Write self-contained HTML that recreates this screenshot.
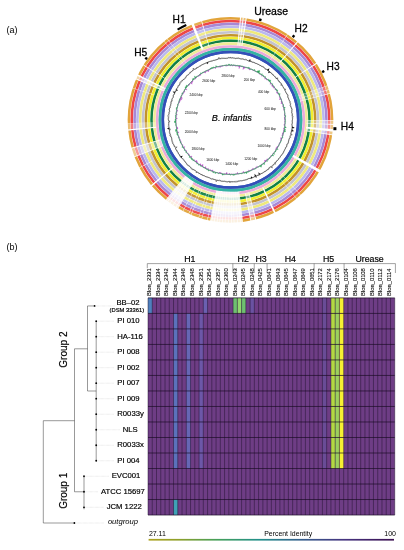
<!DOCTYPE html>
<html lang="en"><head><meta charset="utf-8"><title>B. infantis comparative genomics</title>
<style>html,body{margin:0;padding:0;background:#fff}body{width:404px;height:550px;overflow:hidden}svg{display:block}text{font-family:"Liberation Sans",Arial,sans-serif;fill:#000}.b{stroke:#000;stroke-width:.28px}.m{stroke:#000;stroke-width:.18px}.g{stroke:#111;stroke-width:.1px}</style>
</head><body>
<svg width="404" height="550" viewBox="0 0 404 550">
<rect width="404" height="550" fill="#fff"/>
<g id="panel-a">
<circle cx="230.5" cy="119.8" r="101.59" fill="none" stroke="#E2A43A" stroke-width="2.54"/>
<circle cx="230.5" cy="119.8" r="98.77" fill="none" stroke="#EE4646" stroke-width="2.54"/>
<circle cx="230.5" cy="119.8" r="95.94" fill="none" stroke="#A888D4" stroke-width="2.54"/>
<circle cx="230.5" cy="119.8" r="93.12" fill="none" stroke="#BAB8EE" stroke-width="2.54"/>
<circle cx="230.5" cy="119.8" r="90.3" fill="none" stroke="#EEE97C" stroke-width="2.54"/>
<circle cx="230.5" cy="119.8" r="87.47" fill="none" stroke="#C4C3CE" stroke-width="2.54"/>
<circle cx="230.5" cy="119.8" r="84.65" fill="none" stroke="#C2922A" stroke-width="2.54"/>
<circle cx="230.5" cy="119.8" r="81.83" fill="none" stroke="#F2EE2E" stroke-width="2.54"/>
<circle cx="230.5" cy="119.8" r="79" fill="none" stroke="#128046" stroke-width="2.54"/>
<circle cx="230.5" cy="119.8" r="76.18" fill="none" stroke="#F0EC96" stroke-width="2.54"/>
<circle cx="230.5" cy="119.8" r="73.36" fill="none" stroke="#EAAADA" stroke-width="2.54"/>
<circle cx="230.5" cy="119.8" r="70.53" fill="none" stroke="#35B3A3" stroke-width="2.54"/>
<circle cx="230.5" cy="119.8" r="67.71" fill="none" stroke="#3350B8" stroke-width="2.54"/>
<path d="M190.98 23.6A104 104 0 0 1 193.46 22.62L203.61 49.25A75.5 75.5 0 0 0 201.81 49.96Z" fill="#fff" fill-opacity="1.0"/>
<path d="M193.23 22.71A104 104 0 0 1 200.96 20.08L208.91 46.93A76 76 0 0 0 203.26 48.85Z" fill="#fff" fill-opacity="0.12"/>
<path d="M200.92 20.09A104 104 0 0 1 201.7 19.87L209.45 46.77A76 76 0 0 0 208.89 46.94Z" fill="#fff" fill-opacity="0.95"/>
<path d="M166.24 38.03A104 104 0 0 1 166.7 37.67L186.33 62.94A72 72 0 0 0 186.01 63.19Z" fill="#fff" fill-opacity="0.8"/>
<path d="M163.15 40.56A104 104 0 0 1 163.6 40.17L184.18 64.67A72 72 0 0 0 183.87 64.94Z" fill="#fff" fill-opacity="0.7"/>
<path d="M142.31 64.68A104 104 0 0 1 142.68 64.09L167.17 79.62A75 75 0 0 0 166.9 80.05Z" fill="#fff" fill-opacity="0.9"/>
<path d="M136.35 75.61A104 104 0 0 1 137.07 74.12L165.82 88.17A72 72 0 0 0 165.32 89.21Z" fill="#fff" fill-opacity="1.0"/>
<path d="M135.05 78.5A104 104 0 0 1 136.71 74.86L165.57 88.69A72 72 0 0 0 164.42 91.21Z" fill="#fff" fill-opacity="0.55"/>
<path d="M134.84 78.99A104 104 0 0 1 135.27 78.01L164.57 90.87A72 72 0 0 0 164.28 91.54Z" fill="#fff" fill-opacity="0.95"/>
<path d="M131.5 87.93A104 104 0 0 1 131.68 87.39L154.48 94.87A80 80 0 0 0 154.35 95.29Z" fill="#fff" fill-opacity="0.7"/>
<path d="M240.13 16.25A104 104 0 0 1 241.17 16.35L238.16 45.49A74.7 74.7 0 0 0 237.41 45.42Z" fill="#fff" fill-opacity="1.0"/>
<path d="M242.89 16.54A104 104 0 0 1 243.82 16.66L240.06 45.71A74.7 74.7 0 0 0 239.4 45.63Z" fill="#fff" fill-opacity="1.0"/>
<path d="M245.89 16.95A104 104 0 0 1 246.93 17.11L242.3 46.04A74.7 74.7 0 0 0 241.56 45.92Z" fill="#fff" fill-opacity="1.0"/>
<path d="M240.65 16.3A104 104 0 0 1 246.41 17.02L241.93 45.98A74.7 74.7 0 0 0 237.79 45.46Z" fill="#fff" fill-opacity="0.3"/>
<path d="M287.96 33.11A104 104 0 0 1 288.45 33.44L270.62 60.01A72 72 0 0 0 270.28 59.79Z" fill="#fff" fill-opacity="0.7"/>
<path d="M297.88 40.58A104 104 0 0 1 298.76 41.33L279.72 63.21A75 75 0 0 0 279.09 62.67Z" fill="#fff" fill-opacity="1.0"/>
<path d="M317.14 62.27A104 104 0 0 1 317.71 63.13L295.07 77.85A77 77 0 0 0 294.65 77.21Z" fill="#fff" fill-opacity="1.0"/>
<path d="M328.48 84.92A104 104 0 0 1 328.71 85.59L298.49 96.12A72 72 0 0 0 298.33 95.65Z" fill="#fff" fill-opacity="0.9"/>
<path d="M329.8 88.88A104 104 0 0 1 330.01 89.56L299.39 98.86A72 72 0 0 0 299.24 98.39Z" fill="#fff" fill-opacity="0.9"/>
<path d="M330.91 92.72A104 104 0 0 1 331.09 93.4L300.14 101.52A72 72 0 0 0 300.02 101.05Z" fill="#fff" fill-opacity="0.9"/>
<path d="M328.6 85.26A104 104 0 0 1 331 93.06L300.08 101.29A72 72 0 0 0 298.41 95.88Z" fill="#fff" fill-opacity="0.25"/>
<path d="M334.5 120.3A104 104 0 0 1 334.49 121.11L306.49 120.76A76 76 0 0 0 306.5 120.17Z" fill="#fff" fill-opacity="0.9"/>
<path d="M334.41 124.11A104 104 0 0 1 334.37 124.92L306.41 123.54A76 76 0 0 0 306.43 122.95Z" fill="#fff" fill-opacity="0.9"/>
<path d="M334.06 129.34A104 104 0 0 1 333.82 131.64L306.01 128.45A76 76 0 0 0 306.18 126.77Z" fill="#fff" fill-opacity="1.0"/>
<path d="M333.44 134.59A104 104 0 0 1 333.32 135.39L305.64 131.19A76 76 0 0 0 305.73 130.61Z" fill="#fff" fill-opacity="0.9"/>
<path d="M334.5 120.71A104 104 0 0 1 333.38 134.99L305.68 130.9A76 76 0 0 0 306.5 120.46Z" fill="#fff" fill-opacity="0.4"/>
<path d="M321.32 170.46A104 104 0 0 1 319.79 173.12L292.32 156.72A72 72 0 0 0 293.38 154.87Z" fill="#fff" fill-opacity="1.0"/>
<path d="M301.64 195.66A104 104 0 0 1 301.21 196.06L279.45 172.6A72 72 0 0 0 279.75 172.32Z" fill="#fff" fill-opacity="0.7"/>
<path d="M297.58 199.28A104 104 0 0 1 297.12 199.66L276.62 175.09A72 72 0 0 0 276.94 174.82Z" fill="#fff" fill-opacity="0.6"/>
<path d="M276.06 213.29A104 104 0 0 1 274.48 214.04L262.22 187.76A75 75 0 0 0 263.35 187.22Z" fill="#fff" fill-opacity="1.0"/>
<path d="M256.46 220.51A104 104 0 0 1 255.56 220.74L248.57 192.59A75 75 0 0 0 249.22 192.43Z" fill="#fff" fill-opacity="1.0"/>
<path d="M251.51 221.66A104 104 0 0 1 250.6 221.84L245 193.39A75 75 0 0 0 245.65 193.25Z" fill="#fff" fill-opacity="1.0"/>
<path d="M256.01 220.62A104 104 0 0 1 251.06 221.75L245.32 193.32A75 75 0 0 0 248.9 192.51Z" fill="#fff" fill-opacity="0.45"/>
<path d="M243.17 223.02A104 104 0 0 1 209.77 221.71L216.15 190.35A72 72 0 0 0 239.27 191.26Z" fill="#fff" fill-opacity="0.85"/>
<path d="M240.82 223.29A104 104 0 0 1 240.11 223.35L237.16 191.49A72 72 0 0 0 237.65 191.44Z" fill="#fff" fill-opacity="0.9"/>
<path d="M238.11 223.52A104 104 0 0 1 237.4 223.57L235.28 191.64A72 72 0 0 0 235.77 191.61Z" fill="#fff" fill-opacity="0.9"/>
<path d="M234.48 223.72A104 104 0 0 1 233.78 223.75L232.77 191.76A72 72 0 0 0 233.26 191.75Z" fill="#fff" fill-opacity="0.9"/>
<path d="M231.76 223.79A104 104 0 0 1 231.05 223.8L230.88 191.8A72 72 0 0 0 231.37 191.79Z" fill="#fff" fill-opacity="0.9"/>
<path d="M229.04 223.79A104 104 0 0 1 228.33 223.78L229 191.78A72 72 0 0 0 229.49 191.79Z" fill="#fff" fill-opacity="0.9"/>
<path d="M225.41 223.68A104 104 0 0 1 224.7 223.64L226.49 191.69A72 72 0 0 0 226.98 191.71Z" fill="#fff" fill-opacity="0.9"/>
<path d="M222.69 223.51A104 104 0 0 1 221.99 223.45L224.61 191.56A72 72 0 0 0 225.1 191.6Z" fill="#fff" fill-opacity="0.9"/>
<path d="M219.98 223.27A104 104 0 0 1 219.28 223.19L222.73 191.38A72 72 0 0 0 223.22 191.43Z" fill="#fff" fill-opacity="0.9"/>
<path d="M217.28 222.96A104 104 0 0 1 216.57 222.86L220.86 191.15A72 72 0 0 0 221.35 191.22Z" fill="#fff" fill-opacity="0.9"/>
<path d="M214.58 222.57A104 104 0 0 1 213.88 222.46L218.99 190.87A72 72 0 0 0 219.48 190.95Z" fill="#fff" fill-opacity="0.9"/>
<path d="M211.9 222.12A104 104 0 0 1 211.2 221.99L217.14 190.55A72 72 0 0 0 217.62 190.64Z" fill="#fff" fill-opacity="0.9"/>
<path d="M209.77 221.71A104 104 0 0 1 177.72 209.41L192.43 184.42A75 75 0 0 0 215.55 193.29Z" fill="#fff" fill-opacity="0.06"/>
<path d="M207.36 221.19A104 104 0 0 1 206.85 221.08L213.45 192.84A75 75 0 0 0 213.81 192.92Z" fill="#fff" fill-opacity="0.85"/>
<path d="M201.74 219.74A104 104 0 0 1 201.23 219.6L209.39 191.77A75 75 0 0 0 209.76 191.87Z" fill="#fff" fill-opacity="0.85"/>
<path d="M198.61 218.79A104 104 0 0 1 198.11 218.63L207.14 191.07A75 75 0 0 0 207.5 191.19Z" fill="#fff" fill-opacity="0.85"/>
<path d="M190.94 215.98A104 104 0 0 1 190.46 215.78L201.62 189.02A75 75 0 0 0 201.97 189.16Z" fill="#fff" fill-opacity="0.85"/>
<path d="M188.44 214.91A104 104 0 0 1 187.96 214.7L199.82 188.24A75 75 0 0 0 200.17 188.39Z" fill="#fff" fill-opacity="0.85"/>
<path d="M182.71 212.17A104 104 0 0 1 182.25 211.93L195.7 186.24A75 75 0 0 0 196.04 186.41Z" fill="#fff" fill-opacity="0.85"/>
<path d="M177.72 209.41A104 104 0 0 1 165.05 200.62L185.19 175.75A72 72 0 0 0 193.96 181.84Z" fill="#fff" fill-opacity="0.85"/>
<path d="M175.69 208.18A104 104 0 0 1 175.09 207.81L192.14 180.73A72 72 0 0 0 192.55 180.99Z" fill="#fff" fill-opacity="0.9"/>
<path d="M172.64 206.22A104 104 0 0 1 172.05 205.82L190.03 179.35A72 72 0 0 0 190.44 179.63Z" fill="#fff" fill-opacity="0.9"/>
<path d="M169.66 204.15A104 104 0 0 1 169.08 203.73L187.98 177.9A72 72 0 0 0 188.38 178.19Z" fill="#fff" fill-opacity="0.9"/>
<path d="M167.47 202.52A104 104 0 0 1 166.91 202.09L186.47 176.77A72 72 0 0 0 186.86 177.07Z" fill="#fff" fill-opacity="0.9"/>
<path d="M151.05 186.91A104 104 0 0 1 150.15 185.83L172.56 167.42A75 75 0 0 0 173.2 168.19Z" fill="#fff" fill-opacity="1.0"/>
<path d="M138.66 168.59A104 104 0 0 1 138.35 168.02L152.53 160.6A88 88 0 0 0 152.79 161.09Z" fill="#fff" fill-opacity="0.9"/>
<path d="M133.41 157.07A104 104 0 0 1 130.53 148.47L161.29 139.65A72 72 0 0 0 163.28 145.6Z" fill="#fff" fill-opacity="0.45"/>
<path d="M133.58 157.51A104 104 0 0 1 133.24 156.63L163.17 145.3A72 72 0 0 0 163.4 145.91Z" fill="#fff" fill-opacity="1.0"/>
<path d="M130.66 148.92A104 104 0 0 1 130.4 148.01L161.2 139.33A72 72 0 0 0 161.38 139.96Z" fill="#fff" fill-opacity="1.0"/>
<path d="M127.07 130.71A104 104 0 0 1 126.96 129.55L156.13 126.8A74.7 74.7 0 0 0 156.21 127.64Z" fill="#fff" fill-opacity="1.0"/>
<path d="M127.01 130.13A104 104 0 0 1 126.56 123.43L155.55 122.42A75 75 0 0 0 155.87 127.25Z" fill="#fff" fill-opacity="0.3"/>
<path d="M126.57 123.66A104 104 0 0 1 126.56 123.2L155.54 122.25A75 75 0 0 0 155.55 122.58Z" fill="#fff" fill-opacity="0.6"/>
<circle cx="230.5" cy="119.8" r="70.53" fill="none" stroke="#35B3A3" stroke-width="2.54"/>
<circle cx="230.5" cy="119.8" r="67.71" fill="none" stroke="#3350B8" stroke-width="2.54"/>
<circle cx="230.5" cy="119.8" r="62.0" fill="none" stroke="#222" stroke-width="0.35"/>
<path d="M230.5 57.87L231.04 57.69L231.58 58.02L232.12 57.98L232.67 57.63L233.21 57.69L233.72 58.26L234.29 57.87L234.79 58.4L235.31 58.7L235.88 58.31L236.43 58.23L236.98 58.13L237.53 58.08L238.08 58.05L238.65 57.89L239.15 58.28L239.67 58.45L240.18 58.67L240.68 58.97L241.2 59.12L241.78 58.96L242.32 58.99L242.93 58.71L243.42 59.02L243.88 59.42L244.34 59.87L244.97 59.53L245.6 59.26L246.1 59.48L246.63 59.6L247.07 60.06L247.51 60.47L248.03 60.63L248.47 61.04L249.08 60.87L249.46 61.44L249.85 61.97L250.79 60.87L251.15 61.49L251.61 61.79L252.17 61.84L252.52 62.44L253.26 62.03L253.67 62.44L254.25 62.46L254.57 63.08L255.09 63.24L255.59 63.45L256.2 63.4L256.69 63.64L257.17 63.89L257.65 64.13L258.22 64.2L258.65 64.56L259.19 64.69L259.52 65.23L259.86 65.73L260.64 65.43L261.01 65.88L261.36 66.34L262 66.33L262.6 66.37L262.97 66.82L263.54 66.92L264.03 67.18L264.33 67.7L264.71 68.11L264.91 68.79L265.19 69.33L265.98 69.12L266.59 69.21L266.95 69.63L267.47 69.84L267.6 70.56L268.17 70.71L268.79 70.79L269.11 71.26L269.53 71.6L269.79 72.13L270.4 72.24L270.61 72.84L271.14 73.05L271.79 73.13L271.84 73.89L272.1 74.41L272.65 74.6L273.3 74.69L273.32 75.46L273.84 75.69L274.16 76.14L274.65 76.41L275.18 76.65L275.21 77.37L275.79 77.56L276.23 77.89L275.99 78.84L277.9 77.86L277.44 78.99L277.88 79.33L278.11 79.85L278.15 80.52L278.4 81.02L279.22 81.05L279.02 81.89L279.83 81.95L280.18 82.37L280.51 82.79L281 83.11L281.49 83.43L281.37 84.18L280.78 85.24L282.27 84.88L282.28 85.52L282.58 85.98L283.01 86.35L283.03 86.98L283.24 87.48L283.77 87.79L283.87 88.37L284.37 88.7L284.41 89.3L285.79 89.15L284.77 90.34L285.16 90.74L285.31 91.27L285.72 91.67L286.03 92.11L285.82 92.82L286.3 93.18L286.64 93.62L286.96 94.07L287.7 94.33L287.73 94.92L288.11 95.35L287.99 95.99L287.62 96.72L287.98 97.16L287.75 97.82L288.18 98.23L288.7 98.62L288.8 99.15L288.87 99.7L289.32 100.12L289.53 100.62L289.88 101.08L290.27 101.53L290.05 102.16L290.34 102.64L290.6 103.13L290.69 103.67L290.57 104.27L290.44 104.85L289.84 105.55L290.36 105.98L290.85 106.42L290.64 107.02L291.11 107.47L291.09 108.02L292 108.4L291.9 108.97L292.38 109.44L292.25 110.02L291.98 110.61L292.22 111.13L291.79 111.73L291.62 112.29L291.82 112.81L291.93 113.34L292.59 113.82L292.45 114.38L292.45 114.92L292.27 115.48L292.22 116.03L293.23 116.51L292.91 117.07L292.64 117.63L292.51 118.18L292.72 118.71L292.57 119.26L292.3 119.8L292.15 120.34L292.21 120.88L292.14 121.41L292.35 121.96L292.4 122.5L292.18 123.03L292.25 123.58L292.04 124.1L291.83 124.63L292.26 125.2L292.17 125.74L292.32 126.3L292.73 126.89L293.14 127.49L293.69 128.12L292.53 128.52L292.27 129.03L292.33 129.59L291.88 130.07L293.49 130.91L291.76 131.15L291.31 131.62L291.17 132.14L291.1 132.68L291.02 133.22L290.72 133.7L292.26 134.63L290.83 134.84L290.9 135.42L290.49 135.88L290.22 136.36L290.4 136.98L290.57 137.59L290.14 138.03L289.38 138.36L289.23 138.88L289.08 139.4L288.73 139.85L288.73 140.42L289.02 141.1L288.47 141.47L288.73 142.15L288.4 142.61L288.45 143.21L287.91 143.58L287.21 143.87L286.68 144.23L286.85 144.89L286.79 145.45L286.6 145.96L286.69 146.6L286.43 147.08L286.02 147.48L285.31 147.73L285.35 148.36L285.18 148.87L284.78 149.27L284.68 149.83L284.36 150.27L284.47 150.96L284.16 151.41L283.59 151.7L283.64 152.36L283.4 152.85L283.15 153.34L282.81 153.77L282.45 154.19L281.97 154.52L281.88 155.11L281.24 155.33L280.89 155.74L280.6 156.2L280.39 156.72L280.26 157.3L279.8 157.63L279.5 158.08L279.14 158.49L278.55 158.71L278.5 159.37L278.23 159.85L277.89 160.28L277.32 160.5L277.02 160.96L276.34 161.08L276.28 161.75L276.01 162.24L275.68 162.68L274.82 162.6L275.62 164.14L274.59 163.89L274.16 164.23L273.96 164.8L273.23 164.82L273.07 165.46L272.62 165.77L272.3 166.22L271.7 166.37L272.4 168L270.63 166.78L270.01 166.89L269.68 167.33L269.11 167.48L268.98 168.18L268.99 169.07L268.52 169.35L267.87 169.39L267.52 169.84L267 170.04L266.77 170.65L266.12 170.66L265.7 171.02L265.36 171.49L264.72 171.49L264.43 172.05L263.89 172.21L263.51 172.62L263.04 172.9L262.5 173.05L262.18 173.59L261.48 173.46L261.1 173.88L260.56 174.04L260.13 174.37L259.74 174.79L259.3 175.13L258.75 175.25L258.31 175.59L257.47 175.09L257.19 175.75L256.73 176.05L256.23 176.26L256.28 177.7L255.18 176.56L254.58 176.54L254.14 176.86L253.69 177.2L253.26 177.59L252.81 177.92L252.12 177.63L251.45 177.36L251.33 178.61L250.7 178.47L250.12 178.44L249.55 178.42L248.99 178.44L248.45 178.5L248 178.89L247.53 179.19L247.03 179.42L246.63 180L246.04 179.88L245.51 180.01L245.03 180.32L244.47 180.31L243.94 180.43L243.36 180.31L242.87 180.59L242.34 180.69L241.81 180.85L241.26 180.83L240.7 180.77L240.15 180.76L239.64 180.97L239.13 181.21L238.57 181.09L238.02 181.06L237.58 181.92L237.01 181.77L236.48 181.95L235.94 181.95L235.4 182.03L234.84 181.91L234.3 181.89L233.77 182.28L233.2 181.68L232.67 181.96L232.12 181.77L231.58 181.79L231.04 181.72L230.5 181.59L229.95 182.75L229.43 181.32L228.88 181.82L228.35 181.43L227.79 181.9L227.23 182.17L226.69 182.14L226.18 181.64L225.63 181.69L225.11 181.46L224.58 181.31L224.05 181.14L223.47 181.46L222.94 181.4L222.39 181.39L221.91 180.91L221.27 181.57L220.8 181.03L220.37 180.36L219.86 180.15L219.32 180.13L218.72 180.4L218.19 180.31L217.62 180.4L217.19 179.83L216.2 181.76L215.97 180.31L215.52 179.88L215.03 179.63L214.47 179.61L213.97 179.4L213.43 179.33L212.87 179.31L212.47 178.78L211.7 179.44L211.26 179.01L210.75 178.83L210.3 178.47L209.89 177.99L209.45 177.65L208.97 177.4L208.4 177.38L207.88 177.22L207.42 176.92L206.89 176.8L206.33 176.73L205.72 176.78L205.34 176.3L204.87 176.04L204.42 175.72L203.88 175.62L203.3 175.57L202.83 175.3L202.2 175.35L202.03 174.48L201.41 174.51L200.87 174.38L200.3 174.29L199.95 173.79L199.51 173.48L198.79 173.63L198.61 172.87L198.24 172.44L197.65 172.37L197.11 172.21L196.1 172.78L196.38 171.36L195.92 171.06L195.47 170.76L195.15 170.29L194.59 170.15L193.99 170.05L193.42 169.92L193.15 169.36L192.23 169.67L191.79 169.34L191.54 168.78L191 168.58L190.79 167.98L190.65 167.29L190.12 167.08L189.72 166.72L189.29 166.38L189.16 165.71L188.44 165.7L187.91 165.47L187.4 165.22L186.93 164.92L186.93 164.13L186.54 163.76L186.11 163.42L185.81 162.96L185.84 162.18L185.28 161.97L184.91 161.58L184.71 161.03L184.4 160.59L184.04 160.18L183.94 159.57L183.51 159.23L183.12 158.86L182.61 158.58L182.15 158.26L181.81 157.84L181.3 157.55L180.81 157.24L180.14 157.07L180.18 156.36L180.12 155.74L179.53 155.49L179.64 154.76L179.22 154.39L178.63 154.14L178.41 153.63L178.14 153.15L178.2 152.48L177.67 152.18L177.28 151.78L177.27 151.16L177.19 150.58L176.4 150.41L176.08 149.97L175.88 149.45L175.71 148.93L175.58 148.39L177.15 146.98L175.52 147.21L174.96 146.89L174.79 146.37L173.89 146.2L174.02 145.54L173.75 145.07L173.62 144.53L173.12 144.16L172.6 143.78L172.51 143.23L172.32 142.72L172.4 142.1L172 141.67L171.96 141.11L171.78 140.6L171.61 140.08L171.67 139.48L171.89 138.84L171.62 138.36L171.67 137.79L171.4 137.31L170.7 136.95L170.67 136.39L170.65 135.84L169.67 135.53L169.91 134.91L170.29 134.26L169.65 133.85L169.6 133.3L169.31 132.81L169.51 132.21L169.45 131.67L169.44 131.12L169.69 130.52L169.34 130.03L170.55 129.29L168.75 129.03L169.23 128.41L169.14 127.88L168.84 127.37L168.64 126.85L168.21 126.35L168.43 125.78L168.41 125.23L168.47 124.68L168.26 124.15L169.1 123.56L168.53 123.05L168.77 122.5L168.97 121.95L170.1 121.38L168.81 120.88L168.54 120.34L168.16 119.8L168.31 119.26L168.29 118.71L168.05 118.16L168.23 117.63L168.57 117.1L168.03 116.53L168.16 115.99L167.89 115.42L168.29 114.9L168.55 114.38L169 113.88L168.94 113.33L168.87 112.78L169.13 112.26L169.62 111.78L169.68 111.25L169.57 110.69L169.49 110.14L169.07 109.52L169.27 109L169.48 108.49L169.64 107.97L170.4 107.57L170.01 106.94L170.21 106.43L170.5 105.95L170.72 105.45L171.11 104.99L170.76 104.35L171.15 103.9L170.86 103.26L170.86 102.7L170.67 102.08L170.98 101.6L171.21 101.1L172.43 100.93L171.58 100.09L171.72 99.56L171.95 99.07L172.17 98.57L172.57 98.14L172.97 97.71L173.45 97.33L173.48 96.76L173.32 96.12L172.94 95.37L173.58 95.05L173.82 94.57L174.42 94.25L174.38 93.63L174.93 93.29L174.98 92.72L174.89 92.07L175.16 91.6L176 91.43L176.21 90.93L176.21 90.32L176.08 89.63L176.38 89.18L176.43 88.58L176.8 88.17L177.39 87.89L177.74 87.47L178.07 87.04L177.9 86.29L178.05 85.74L178.37 85.3L179.37 85.31L179.86 85L179.71 84.24L179.67 83.54L179.9 83.03L179.98 82.42L180.36 82.02L181.02 81.83L181.08 81.19L181.41 80.76L182.31 80.78L182.51 80.24L183.17 80.09L183.32 79.51L184.04 79.41L184.6 79.19L184.79 78.65L185.23 78.32L185.78 78.1L185.89 77.47L186.18 77L186.22 76.28L186.61 75.91L186.84 75.37L187.48 75.26L187.86 74.86L188.46 74.72L188.94 74.44L189.31 74.06L189.67 73.65L189.97 73.18L189.86 72.21L190.52 72.16L191.1 72.01L191.55 71.7L191.8 71.15L192.16 70.72L192.75 70.6L192.85 69.84L193.43 69.7L193 68.19L194.4 69.19L194.91 68.97L195.71 69.19L195.99 68.64L196.52 68.47L196.66 67.69L197.33 67.73L197.81 67.48L198.37 67.37L198.75 66.95L199.17 66.61L199.61 66.3L200.21 66.27L200.74 66.12L201.01 65.49L201.36 65L201.89 64.85L202.48 64.8L202.8 64.25L203.37 64.19L203.85 63.94L204.37 63.77L204.83 63.48L205.33 63.27L205.93 63.3L206.46 63.17L206.88 62.78L207.37 62.55L207.92 62.47L208.26 61.85L208.78 61.72L209.31 61.57L209.8 61.35L210.34 61.25L210.92 61.28L211.4 61L212.08 61.39L212.46 60.78L213.01 60.74L213.44 60.32L214.08 60.6L214.57 60.36L215.05 60.07L215.62 60.11L216.18 60.14L216.65 59.8L217.05 59.14L217.67 59.42L218.08 58.75L218.64 58.8L218.92 57.34L219.73 58.7L220.3 58.83L220.73 58.15L221.26 57.97L221.85 58.24L222.39 58.17L222.89 57.86L223.47 58.12L224.03 58.2L224.58 58.28L225.13 58.42L225.67 58.41L226.22 58.63L226.73 58.11L227.28 58.36L227.81 58.18L228.32 57.49L228.86 57.32L229.42 57.66L229.96 57.41L230.5 57.38Z" fill="none" stroke="#111" stroke-width="0.45" stroke-linejoin="round"/>
<path d="M267.03 69.7L269.38 68.21L268.59 70.88Z" fill="#111"/>
<path d="M268.76 71.01L268.13 73.33L270.27 72.24Z" fill="#111"/>
<path d="M292.15 126.39L294.82 127.7L291.91 128.32Z" fill="#111"/>
<path d="M291.72 129.61L293.53 130.91L291.38 131.52Z" fill="#111"/>
<path d="M260.46 174.08L258.39 172.25L258.74 174.99Z" fill="#111"/>
<path d="M256.6 176.04L254.5 173.7L254.82 176.83Z" fill="#111"/>
<path d="M252.62 177.72L251.02 176.18L250.79 178.39Z" fill="#111"/>
<path d="M174.35 93.5L172.62 91.57L175.21 91.75Z" fill="#111"/>
<path d="M175.81 90.6L178.02 90.71L176.75 88.89Z" fill="#111"/>
<path d="M181.58 157.89L182.74 155.79L180.4 156.33Z" fill="#111"/>
<path d="M248.73 60.54L250.22 59.12L250.58 61.14Z" fill="#111"/>
<path d="M169.25 129.39L166.92 128.73L168.98 127.46Z" fill="#111"/>
<path d="M206.37 62.69L208.02 64.17L208.18 61.96Z" fill="#111"/>
<path d="M230.5 66.14L230.98 65.2L231.45 65.21L231.93 65.22L232.39 65.8L232.84 66.22L233.33 65.87L233.83 65.3L234.28 65.74L234.77 65.48L235.26 65.41L235.65 66.3L236.11 66.46L236.68 65.55L237.15 65.61L237.61 65.79L237.98 66.58L238.5 66.29L239.04 65.87L239.06 68.67L239.98 66.03L240.45 66.13L240.84 66.62L241.22 67.09L241.85 66.39L242.32 66.49L242.78 66.6L243.2 66.89L243.03 69.54L243.99 67.64L244.5 67.57L244.72 68.54L245.47 67.6L246.01 67.45L246.46 67.59L246.86 67.91L247.37 67.87L247.82 68.02L248.28 68.17L248.58 68.74L249.17 68.49L249.18 69.84L249.74 69.69L250.36 69.39L250.95 69.18L251.39 69.36L251.83 69.54L252.24 69.8L252.71 69.92L252.95 70.55L253.53 70.42L254.01 70.52L254.44 70.73L254.78 71.11L255.29 71.15L255.59 71.6L256.1 71.65L256.55 71.82L256.97 72.05L257.39 72.28L257.8 72.52L258.21 72.76L258.62 73L258.96 73.35L259.43 73.5L259.49 74.3L260.24 74.01L260.54 74.42L261.03 74.53L261.43 74.8L261.82 75.07L261.62 76.17L262.53 75.71L262.98 75.91L263.36 76.19L263.42 76.9L263.9 77.05L264.49 77.07L264.86 77.37L265.07 77.86L264.64 79.11L265.79 78.48L266.32 78.59L266.22 79.42L266.38 79.95L267.39 79.54L267.74 79.87L268.08 80.19L268.21 80.75L268.77 80.86L269.11 81.19L269.44 81.53L269.78 81.87L270.11 82.22L270.43 82.56L270.63 83.02L269.97 84.26L271.12 83.86L271.71 83.98L272.02 84.34L272.33 84.7L271.61 85.91L272.02 86.18L272.25 86.59L273.24 86.41L273.82 86.56L273.31 87.54L273.34 88.1L274.67 87.71L274.8 88.2L275.23 88.48L275.17 89.1L274.92 89.84L276.03 89.66L276.29 90.06L276.55 90.46L276.8 90.87L277.05 91.27L277.24 91.71L276.19 92.89L277.61 92.6L277.49 93.21L277.6 93.69L278.48 93.75L278.71 94.17L278.93 94.59L279.15 95.01L279.36 95.44L279.57 95.86L279.37 96.49L279.95 96.74L279.5 97.47L279.86 97.82L280.36 98.12L279.15 99.15L279.7 99.42L281.12 99.35L281.3 99.79L281.11 100.37L281.57 100.71L281.2 101.35L281.02 101.91L281.55 102.22L281.39 102.77L280.86 103.44L282.3 103.47L282.51 103.9L282.85 104.29L282.98 104.75L283.11 105.21L282.76 105.8L282.69 106.3L282.79 106.76L283.01 107.19L283.7 107.52L283.81 107.98L283.91 108.45L283.54 109.01L283.56 109.49L284.19 109.85L284.18 110.33L283.89 110.87L284.37 111.27L284.5 111.73L284.57 112.2L284.63 112.67L284.69 113.15L284.75 113.62L284.09 114.17L284.78 114.57L284.07 115.11L284.51 115.55L284.97 115.99L285 116.47L285.03 116.94L284.43 117.45L284.14 117.93L285.08 118.37L284.15 118.86L285.1 119.32L284.39 119.8L285.1 120.28L285.09 120.75L285.08 121.23L284.37 121.68L285.05 122.18L285.03 122.66L284.46 123.1L284.97 123.61L284.93 124.08L284.41 124.52L283.63 124.92L284.77 125.5L284.49 125.95L284.69 126.45L284.63 126.93L284.57 127.4L284.5 127.87L283.33 128.17L283.93 128.74L284.27 129.28L284.19 129.75L283.2 130.04L284 130.69L283.91 131.15L283.81 131.62L283.08 131.94L283.55 132.54L282.63 132.8L282.23 133.18L282.71 133.79L282.26 134.15L282.8 134.8L282.85 135.31L281.67 135.45L282.57 136.22L282.43 136.67L282.28 137.12L282.13 137.58L281.69 137.93L280.19 137.88L281.08 138.71L281.25 139.28L280.59 139.53L281.12 140.25L280.42 140.48L280.46 141.01L280.57 141.57L280.38 142.01L279.79 142.26L279.8 142.79L279.78 143.31L279.14 143.52L278.79 143.87L278.96 144.49L278.93 145.01L278.71 145.43L278.48 145.85L277.83 146.04L277.36 146.31L277.3 146.82L277.54 147.51L276.09 147.2L276.73 148.13L276.8 148.73L275.69 148.59L276.09 149.41L275.49 149.58L275.77 150.33L275.5 150.73L275.23 151.12L274.95 151.51L274.67 151.89L274.26 152.18L273.9 152.51L273.82 153.04L273.53 153.42L272.89 153.51L272.52 153.83L272.63 154.53L272.33 154.9L272.02 155.26L271.71 155.62L270.79 155.45L271.08 156.33L270.55 156.5L270.19 156.81L270.11 157.38L269.43 157.4L269.44 158.07L269.11 158.41L268.77 158.74L268.43 159.08L267.56 158.85L267.74 159.73L266.55 159.14L266.86 160.19L266.68 160.69L265.94 160.57L265.15 160.37L264.53 160.35L264.86 161.48L264.55 161.85L264.26 162.24L264.12 162.83L263.74 163.12L263.36 163.41L262.94 163.64L262.57 163.94L262.21 164.25L261.56 164.15L261.41 164.78L261.03 165.07L260.64 165.33L260.24 165.59L259.84 165.85L259.43 166.1L258.97 166.25L258.57 166.52L258.21 166.84L257.73 166.97L256.77 166.23L256.74 167.14L256.51 167.71L255.72 167.24L255.71 168.23L255.29 168.45L254.86 168.66L254.44 168.87L254.01 169.08L253.16 168.4L252.6 168.3L252.71 169.68L251.99 169.23L251.8 169.99L251.17 169.71L250.95 170.42L250.33 170.14L250.07 170.77L249.62 170.94L248.72 169.86L248.73 171.27L248.13 171L247.82 171.58L247.25 171.35L246.92 171.87L246.46 172.01L246.01 172.15L245.55 172.28L244.93 171.84L244.63 172.54L244.17 172.66L243.3 171.15L243.25 172.89L242.72 172.72L242.32 173.11L241.85 173.21L241.39 173.3L240.92 173.4L240.45 173.49L239.98 173.57L239.46 173.33L239.04 173.73L238.57 173.8L238.04 173.43L237.42 172.33L237.15 173.98L236.64 173.65L236.21 174.1L235.69 173.68L235.26 174.19L234.78 174.23L234.31 174.27L233.82 174.05L233.36 174.33L232.88 174.35L232.41 174.37L231.91 173.7L231.45 174.39L230.98 174.4L230.5 174.4L230.03 173.78L229.57 173.25L229.07 174.38L228.6 174.09L228.12 174.35L227.66 174.04L227.17 174.27L226.83 172.29L226.3 173.11L225.75 174.1L225.27 174.15L224.79 174.1L224.37 173.62L223.85 173.99L223.37 173.93L222.9 173.87L222.43 173.8L221.96 173.73L221.56 173.2L221.15 172.83L220.75 172.39L220.15 173.03L219.88 171.99L219.15 173.21L218.68 173.11L218.23 172.97L217.79 172.75L217.29 172.78L216.95 172.21L216.37 172.54L215.91 172.41L215.45 172.28L215.02 172.07L214.57 171.92L214.08 171.87L213.63 171.73L213.18 171.58L213.07 170.43L212.43 170.83L212.3 169.8L211.46 170.72L210.93 170.77L210.64 170.21L210.44 169.46L209.64 170.16L209.17 170.06L208.73 169.87L208.29 169.68L208.39 168.32L207.66 168.78L206.99 169.08L206.68 168.63L206.33 168.28L205.71 168.45L205.77 167.31L205.66 166.52L204.45 167.78L204.03 167.55L203.61 167.32L203.37 166.79L202.99 166.51L202.69 166.09L203.11 164.5L202.36 164.84L201.16 165.85L200.76 165.59L201.01 164.36L200.54 164.22L200.35 163.67L199.18 164.53L198.79 164.25L198.41 163.97L198.21 163.44L197.64 163.41L197.26 163.12L197.6 161.9L196.56 162.47L197.08 161.07L196.95 160.5L196.23 160.64L195.35 160.95L194.68 161.01L194.35 160.67L194.51 159.77L193.61 160.06L193.26 159.73L192.92 159.41L192.57 159.08L192.23 158.74L191.89 158.41L191.56 158.07L191.22 157.73L192 156.34L191.36 156.3L190.24 156.69L189.92 156.33L189.61 155.98L189.7 155.27L188.98 155.26L189.27 154.39L188.96 154.04L188.15 154.09L188.3 153.37L187.47 153.42L187.18 153.04L186.89 152.66L186.61 152.27L186.33 151.89L186.73 151.02L186.51 150.6L185.5 150.73L185.23 150.33L184.97 149.94L185.03 149.33L184.48 149.11L184.2 148.73L184.16 148.2L184.38 147.51L184.9 146.66L183.22 147.1L182.98 146.69L182.75 146.27L182.69 145.76L183.17 144.96L182.48 144.8L182.08 144.47L181.64 144.16L181.43 143.74L181.66 143.1L181.02 142.87L180.82 142.44L181.33 141.69L180.43 141.57L180.89 140.86L180.06 140.69L179.88 140.25L180.4 139.54L179.53 139.37L179.44 138.89L179.19 138.47L179.21 137.96L179.52 137.35L178.72 137.12L179.17 136.48L178.43 136.22L178.29 135.76L178.15 135.31L178.02 134.85L177.89 134.39L177.76 133.93L177.64 133.47L177.52 133.01L179.14 132.13L177.3 132.08L177.19 131.62L177.09 131.15L177 130.69L176.9 130.22L176.81 129.75L176.73 129.28L177.59 128.65L177.98 128.12L177.66 127.7L177.5 127.25L176.62 126.89L176.57 126.42L176.25 125.98L176.2 125.51L176.15 125.03L176.11 124.56L176.07 124.08L176.03 123.61L176.19 123.12L175.97 122.66L175.95 122.18L175.93 121.71L175.92 121.23L176.14 120.75L175.9 120.28L175.9 119.8L175.9 119.32L175.96 118.85L177.47 118.41L176.51 117.91L175.95 117.42L176.27 116.96L176.27 116.48L176.03 115.99L176.07 115.52L176.63 115.09L177.4 114.69L176.25 114.1L176.25 113.62L176.31 113.15L176.81 112.73L176.78 112.25L176.5 111.73L176.85 111.3L178.07 111.03L176.97 110.36L176.81 109.85L176.9 109.38L177 108.91L177.09 108.45L177.19 107.98L177.3 107.52L177.41 107.05L177.59 106.61L177.64 106.13L177.77 105.67L178.15 105.28L178.02 104.75L178.15 104.29L178.48 103.9L178.43 103.38L178.57 102.93L179.61 102.77L179.44 102.22L179.79 101.84L179.19 101.13L180.49 101.1L180 100.42L180.56 100.13L179.88 99.35L181.9 99.67L181.06 98.82L181.37 98.44L182.32 98.35L182.19 97.79L181.02 96.73L181.22 96.29L181.43 95.86L181.92 95.58L182.28 95.23L182.07 94.59L182.53 94.29L182.52 93.75L183.65 93.83L182.98 92.91L183.22 92.5L184.05 92.44L184.54 92.18L184.38 91.54L184.95 91.34L184.45 90.46L184.71 90.06L185.12 89.77L185.38 89.36L187.08 89.96L185.77 88.48L186.05 88.09L186.33 87.71L186.61 87.32L186.89 86.94L187.18 86.56L187.47 86.18L187.77 85.81L188.47 85.76L188.81 85.43L188.67 84.7L189.64 84.91L189.61 84.26L189.74 83.74L190.02 83.35L190.32 82.98L192.23 84.11L191.72 83L191.22 81.87L192.47 82.43L192.38 81.68L192.84 81.48L192.57 80.52L192.92 80.19L193.26 79.87L193.96 79.93L193.97 79.22L194.32 78.91L194.9 78.85L195.7 79.05L195.4 77.97L195.77 77.67L196.52 77.84L196.51 77.07L196.88 76.77L197.26 76.48L197.77 76.37L198.43 76.46L198.61 75.91L199.19 75.91L199.61 75.69L199.57 74.8L200.51 75.34L200.94 75.14L200.76 74.01L201.16 73.75L201.57 73.5L201.97 73.25L202.38 73L202.79 72.76L203.2 72.52L203.92 72.82L204.03 72.05L204.89 72.63L205.64 73.05L205.39 71.57L205.71 71.15L206.39 71.44L206.56 70.73L206.99 70.52L208.06 71.69L208.45 71.41L208.71 70.85L208.85 70.02L209.33 69.93L209.83 69.9L210.05 69.18L210.49 69L210.93 68.83L211.38 68.66L211.83 68.49L212.27 68.33L212.72 68.17L213.18 68.02L213.64 67.91L214.08 67.73L214.54 67.59L215.37 68.71L215.62 67.89L215.91 67.19L216.37 67.06L216.83 66.94L217.29 66.82L217.81 66.96L218.27 66.81L218.9 67.48L219.3 67.13L219.7 66.71L220.32 67.43L220.61 66.43L221.03 66.12L221.53 66.2L222.11 66.85L222.43 65.8L222.94 66L223.37 65.67L223.85 65.61L224.32 65.55L224.79 65.5L225.27 65.45L225.82 66.3L226.22 65.37L226.75 66.23L227.21 65.98L227.66 65.52L228.12 65.25L228.59 65.23L229.07 65.22L229.55 65.21L230.02 65.2L230.5 65.2L230.5 65.2L230.02 65.2L229.55 65.21L229.07 65.22L228.59 65.23L228.12 65.25L227.64 65.27L227.17 65.3L226.69 65.33L226.22 65.37L225.74 65.41L225.27 65.45L224.79 65.5L224.32 65.55L223.85 65.61L223.37 65.67L222.9 65.73L222.43 65.8L221.96 65.87L221.49 65.95L221.02 66.03L220.55 66.11L220.08 66.2L219.61 66.3L219.15 66.39L218.68 66.49L218.22 66.6L217.75 66.71L217.29 66.82L216.83 66.94L216.37 67.06L215.91 67.19L215.45 67.32L214.99 67.45L214.54 67.59L214.08 67.73L213.63 67.87L213.18 68.02L212.72 68.17L212.27 68.33L211.83 68.49L211.38 68.66L210.93 68.83L210.49 69L210.05 69.18L209.61 69.36L209.17 69.54L208.73 69.73L208.29 69.92L207.86 70.12L207.43 70.32L206.99 70.52L206.56 70.73L206.14 70.94L205.71 71.15L205.29 71.37L204.87 71.59L204.45 71.82L204.03 72.05L203.61 72.28L203.2 72.52L202.79 72.76L202.38 73L201.97 73.25L201.57 73.5L201.16 73.75L200.76 74.01L200.36 74.27L199.97 74.53L199.57 74.8L199.18 75.07L198.79 75.35L198.41 75.63L198.02 75.91L197.64 76.19L197.26 76.48L196.88 76.77L196.51 77.07L196.14 77.37L195.77 77.67L195.4 77.97L195.04 78.28L194.68 78.59L194.32 78.91L193.97 79.22L193.61 79.54L193.26 79.87L192.92 80.19L192.57 80.52L192.23 80.86L191.89 81.19L191.56 81.53L191.22 81.87L190.89 82.22L190.57 82.56L190.24 82.91L189.92 83.27L189.61 83.62L189.29 83.98L188.98 84.34L188.67 84.7L188.37 85.07L188.07 85.44L187.77 85.81L187.47 86.18L187.18 86.56L186.89 86.94L186.61 87.32L186.33 87.71L186.05 88.09L185.77 88.48L185.5 88.87L185.23 89.27L184.97 89.66L184.71 90.06L184.45 90.46L184.2 90.87L183.95 91.27L183.7 91.68L183.46 92.09L183.22 92.5L182.98 92.91L182.75 93.33L182.52 93.75L182.29 94.17L182.07 94.59L181.85 95.01L181.64 95.44L181.43 95.86L181.22 96.29L181.02 96.73L180.82 97.16L180.62 97.59L180.43 98.03L180.24 98.47L180.06 98.91L179.88 99.35L179.7 99.79L179.53 100.23L179.36 100.68L179.19 101.13L179.03 101.57L178.87 102.02L178.72 102.48L178.57 102.93L178.43 103.38L178.29 103.84L178.15 104.29L178.02 104.75L177.89 105.21L177.76 105.67L177.64 106.13L177.52 106.59L177.41 107.05L177.3 107.52L177.19 107.98L177.09 108.45L177 108.91L176.9 109.38L176.81 109.85L176.73 110.32L176.65 110.79L176.57 111.26L176.5 111.73L176.43 112.2L176.37 112.67L176.31 113.15L176.25 113.62L176.2 114.09L176.15 114.57L176.11 115.04L176.07 115.52L176.03 115.99L176 116.47L175.97 116.94L175.95 117.42L175.93 117.89L175.92 118.37L175.91 118.85L175.9 119.32L175.9 119.8L175.9 120.28L175.91 120.75L175.92 121.23L175.93 121.71L175.95 122.18L175.97 122.66L176 123.13L176.03 123.61L176.07 124.08L176.11 124.56L176.15 125.03L176.2 125.51L176.25 125.98L176.31 126.45L176.37 126.93L176.43 127.4L176.5 127.87L176.57 128.34L176.65 128.81L176.73 129.28L176.81 129.75L176.9 130.22L177 130.69L177.09 131.15L177.19 131.62L177.3 132.08L177.41 132.55L177.52 133.01L177.64 133.47L177.76 133.93L177.89 134.39L178.02 134.85L178.15 135.31L178.29 135.76L178.43 136.22L178.57 136.67L178.72 137.12L178.87 137.58L179.03 138.03L179.19 138.47L179.36 138.92L179.53 139.37L179.7 139.81L179.88 140.25L180.06 140.69L180.24 141.13L180.43 141.57L180.62 142.01L180.82 142.44L181.02 142.87L181.22 143.31L181.43 143.74L181.64 144.16L181.85 144.59L182.07 145.01L182.29 145.43L182.52 145.85L182.75 146.27L182.98 146.69L183.22 147.1L183.46 147.51L183.7 147.92L183.95 148.33L184.2 148.73L184.45 149.14L184.71 149.54L184.97 149.94L185.23 150.33L185.5 150.73L185.77 151.12L186.05 151.51L186.33 151.89L186.61 152.28L186.89 152.66L187.18 153.04L187.47 153.42L187.77 153.79L188.07 154.16L188.37 154.53L188.67 154.9L188.98 155.26L189.29 155.62L189.61 155.98L189.92 156.33L190.24 156.69L190.57 157.04L190.89 157.38L191.22 157.73L191.56 158.07L191.89 158.41L192.23 158.74L192.57 159.08L192.92 159.41L193.26 159.73L193.61 160.06L193.97 160.38L194.32 160.69L194.68 161.01L195.04 161.32L195.4 161.63L195.77 161.93L196.14 162.23L196.51 162.53L196.88 162.83L197.26 163.12L197.64 163.41L198.02 163.69L198.41 163.97L198.79 164.25L199.18 164.53L199.57 164.8L199.97 165.07L200.36 165.33L200.76 165.59L201.16 165.85L201.57 166.1L201.97 166.35L202.38 166.6L202.79 166.84L203.2 167.08L203.61 167.32L204.03 167.55L204.45 167.78L204.87 168.01L205.29 168.23L205.71 168.45L206.14 168.66L206.56 168.87L206.99 169.08L207.43 169.28L207.86 169.48L208.29 169.68L208.73 169.87L209.17 170.06L209.61 170.24L210.05 170.42L210.49 170.6L210.93 170.77L211.38 170.94L211.83 171.11L212.27 171.27L212.72 171.43L213.18 171.58L213.63 171.73L214.08 171.87L214.54 172.01L214.99 172.15L215.45 172.28L215.91 172.41L216.37 172.54L216.83 172.66L217.29 172.78L217.75 172.89L218.22 173L218.68 173.11L219.15 173.21L219.61 173.3L220.08 173.4L220.55 173.49L221.02 173.57L221.49 173.65L221.96 173.73L222.43 173.8L222.9 173.87L223.37 173.93L223.85 173.99L224.32 174.05L224.79 174.1L225.27 174.15L225.74 174.19L226.22 174.23L226.69 174.27L227.17 174.3L227.64 174.33L228.12 174.35L228.59 174.37L229.07 174.38L229.55 174.39L230.02 174.4L230.5 174.4L230.98 174.4L231.45 174.39L231.93 174.38L232.41 174.37L232.88 174.35L233.36 174.33L233.83 174.3L234.31 174.27L234.78 174.23L235.26 174.19L235.73 174.15L236.21 174.1L236.68 174.05L237.15 173.99L237.63 173.93L238.1 173.87L238.57 173.8L239.04 173.73L239.51 173.65L239.98 173.57L240.45 173.49L240.92 173.4L241.39 173.3L241.85 173.21L242.32 173.11L242.78 173L243.25 172.89L243.71 172.78L244.17 172.66L244.63 172.54L245.09 172.41L245.55 172.28L246.01 172.15L246.46 172.01L246.92 171.87L247.37 171.73L247.82 171.58L248.28 171.43L248.73 171.27L249.17 171.11L249.62 170.94L250.07 170.77L250.51 170.6L250.95 170.42L251.39 170.24L251.83 170.06L252.27 169.87L252.71 169.68L253.14 169.48L253.57 169.28L254.01 169.08L254.44 168.87L254.86 168.66L255.29 168.45L255.71 168.23L256.13 168.01L256.55 167.78L256.97 167.55L257.39 167.32L257.8 167.08L258.21 166.84L258.62 166.6L259.03 166.35L259.43 166.1L259.84 165.85L260.24 165.59L260.64 165.33L261.03 165.07L261.43 164.8L261.82 164.53L262.21 164.25L262.59 163.97L262.98 163.69L263.36 163.41L263.74 163.12L264.12 162.83L264.49 162.53L264.86 162.23L265.23 161.93L265.6 161.63L265.96 161.32L266.32 161.01L266.68 160.69L267.03 160.38L267.39 160.06L267.74 159.73L268.08 159.41L268.43 159.08L268.77 158.74L269.11 158.41L269.44 158.07L269.78 157.73L270.11 157.38L270.43 157.04L270.76 156.69L271.08 156.33L271.39 155.98L271.71 155.62L272.02 155.26L272.33 154.9L272.63 154.53L272.93 154.16L273.23 153.79L273.53 153.42L273.82 153.04L274.11 152.66L274.39 152.28L274.67 151.89L274.95 151.51L275.23 151.12L275.5 150.73L275.77 150.33L276.03 149.94L276.29 149.54L276.55 149.14L276.8 148.73L277.05 148.33L277.3 147.92L277.54 147.51L277.78 147.1L278.02 146.69L278.25 146.27L278.48 145.85L278.71 145.43L278.93 145.01L279.15 144.59L279.36 144.16L279.57 143.74L279.78 143.31L279.98 142.87L280.18 142.44L280.38 142.01L280.57 141.57L280.76 141.13L280.94 140.69L281.12 140.25L281.3 139.81L281.47 139.37L281.64 138.92L281.81 138.47L281.97 138.03L282.13 137.58L282.28 137.12L282.43 136.67L282.57 136.22L282.71 135.76L282.85 135.31L282.98 134.85L283.11 134.39L283.24 133.93L283.36 133.47L283.48 133.01L283.59 132.55L283.7 132.08L283.81 131.62L283.91 131.15L284 130.69L284.1 130.22L284.19 129.75L284.27 129.28L284.35 128.81L284.43 128.34L284.5 127.87L284.57 127.4L284.63 126.93L284.69 126.45L284.75 125.98L284.8 125.51L284.85 125.03L284.89 124.56L284.93 124.08L284.97 123.61L285 123.13L285.03 122.66L285.05 122.18L285.07 121.71L285.08 121.23L285.09 120.75L285.1 120.28L285.1 119.8L285.1 119.32L285.09 118.85L285.08 118.37L285.07 117.89L285.05 117.42L285.03 116.94L285 116.47L284.97 115.99L284.93 115.52L284.89 115.04L284.85 114.57L284.8 114.09L284.75 113.62L284.69 113.15L284.63 112.67L284.57 112.2L284.5 111.73L284.43 111.26L284.35 110.79L284.27 110.32L284.19 109.85L284.1 109.38L284 108.91L283.91 108.45L283.81 107.98L283.7 107.52L283.59 107.05L283.48 106.59L283.36 106.13L283.24 105.67L283.11 105.21L282.98 104.75L282.85 104.29L282.71 103.84L282.57 103.38L282.43 102.93L282.28 102.48L282.13 102.02L281.97 101.57L281.81 101.13L281.64 100.68L281.47 100.23L281.3 99.79L281.12 99.35L280.94 98.91L280.76 98.47L280.57 98.03L280.38 97.59L280.18 97.16L279.98 96.73L279.78 96.29L279.57 95.86L279.36 95.44L279.15 95.01L278.93 94.59L278.71 94.17L278.48 93.75L278.25 93.33L278.02 92.91L277.78 92.5L277.54 92.09L277.3 91.68L277.05 91.27L276.8 90.87L276.55 90.46L276.29 90.06L276.03 89.66L275.77 89.27L275.5 88.87L275.23 88.48L274.95 88.09L274.67 87.71L274.39 87.32L274.11 86.94L273.82 86.56L273.53 86.18L273.23 85.81L272.93 85.44L272.63 85.07L272.33 84.7L272.02 84.34L271.71 83.98L271.39 83.62L271.08 83.27L270.76 82.91L270.43 82.56L270.11 82.22L269.78 81.87L269.44 81.53L269.11 81.19L268.77 80.86L268.43 80.52L268.08 80.19L267.74 79.87L267.39 79.54L267.03 79.22L266.68 78.91L266.32 78.59L265.96 78.28L265.6 77.97L265.23 77.67L264.86 77.37L264.49 77.07L264.12 76.77L263.74 76.48L263.36 76.19L262.98 75.91L262.59 75.63L262.21 75.35L261.82 75.07L261.43 74.8L261.03 74.53L260.64 74.27L260.24 74.01L259.84 73.75L259.43 73.5L259.03 73.25L258.62 73L258.21 72.76L257.8 72.52L257.39 72.28L256.97 72.05L256.55 71.82L256.13 71.59L255.71 71.37L255.29 71.15L254.86 70.94L254.44 70.73L254.01 70.52L253.57 70.32L253.14 70.12L252.71 69.92L252.27 69.73L251.83 69.54L251.39 69.36L250.95 69.18L250.51 69L250.07 68.83L249.62 68.66L249.17 68.49L248.73 68.33L248.28 68.17L247.82 68.02L247.37 67.87L246.92 67.73L246.46 67.59L246.01 67.45L245.55 67.32L245.09 67.19L244.63 67.06L244.17 66.94L243.71 66.82L243.25 66.71L242.78 66.6L242.32 66.49L241.85 66.39L241.39 66.3L240.92 66.2L240.45 66.11L239.98 66.03L239.51 65.95L239.04 65.87L238.57 65.8L238.1 65.73L237.63 65.67L237.15 65.61L236.68 65.55L236.21 65.5L235.73 65.45L235.26 65.41L234.78 65.37L234.31 65.33L233.83 65.3L233.36 65.27L232.88 65.25L232.41 65.23L231.93 65.22L231.45 65.21L230.98 65.2L230.5 65.2Z" fill="#B43CC4" stroke="#B43CC4" stroke-width="0.35"/>
<path d="M230.5 65.2L230.98 64.91L231.46 64.6L231.94 64.64L232.41 65.23L232.88 65.25L233.36 65.27L233.88 64.53L234.31 65.33L234.78 65.37L235.29 65L235.73 65.45L236.21 65.5L236.69 65.49L237.22 65.04L237.63 65.67L238.1 65.73L238.57 65.8L239.14 65.23L239.51 65.95L240.1 65.38L240.45 66.11L240.92 66.2L241.39 66.3L241.97 65.83L242.4 66.1L242.82 66.45L243.25 66.71L243.71 66.82L244.17 66.94L244.63 67.06L245.09 67.19L245.55 67.32L246.07 67.23L246.6 67.13L246.92 67.73L247.42 67.74L248.12 67.13L248.57 67.33L248.73 68.33L249.5 67.6L249.62 68.66L250.07 68.83L250.51 69L251.15 68.68L251.46 69.21L251.95 69.27L252.27 69.73L252.97 69.33L253.14 70.12L253.57 70.32L254.64 69.2L254.56 70.46L254.86 70.94L255.45 70.83L255.71 71.37L256.13 71.59L256.74 71.47L257.56 70.98L258.25 70.75L258.78 70.82L259.59 70.42L259.71 71.18L259.03 73.25L259.71 73.05L259.84 73.75L260.43 73.72L260.64 74.27L261.12 74.4L262.2 73.67L262.28 74.41L262.21 75.35L262.59 75.63L263.44 75.28L263.69 75.75L263.74 76.48L264.12 76.77L264.84 76.63L265.53 76.55L265.23 77.67L265.6 77.97L265.96 78.28L266.34 78.57L266.68 78.91L267.03 79.22L267.53 79.39L268.44 79.11L268.66 79.59L268.43 80.52L269.67 79.94L270.1 80.2L270.81 80.18L270.28 81.38L270.56 81.79L270.93 82.1L270.76 82.91L271.08 83.27L271.39 83.62L271.76 83.93L272.76 83.71L272.64 84.44L272.63 85.07L272.93 85.44L273.23 85.81L273.53 86.18L274.19 86.28L274.11 86.94L274.39 87.32L274.8 87.62L274.95 88.09L275.31 88.42L275.5 88.87L275.77 89.27L276.68 89.23L276.45 89.96L277.2 90.05L277.89 90.19L277.13 91.22L277.3 91.68L277.54 92.09L277.78 92.5L278.02 92.91L278.25 93.33L279.26 93.33L279 94.01L280.32 93.87L279.46 94.86L279.52 95.36L279.96 95.68L279.78 96.29L279.98 96.73L280.18 97.16L280.38 97.59L280.57 98.03L280.76 98.47L280.94 98.91L281.6 99.15L281.31 99.78L281.47 100.23L281.64 100.68L281.81 101.13L281.97 101.57L282.13 102.02L282.28 102.48L282.43 102.93L282.57 103.38L282.71 103.84L283.04 104.24L283.09 104.72L283.96 104.98L283.24 105.67L283.36 106.13L283.48 106.59L283.59 107.05L284.43 107.35L285.35 107.64L284.01 108.43L284 108.91L284.1 109.38L285.14 109.67L284.27 110.32L284.35 110.79L284.43 111.26L284.84 111.68L284.59 112.2L285.06 112.62L284.7 113.15L285.02 113.59L284.8 114.09L284.85 114.57L284.89 115.04L284.93 115.52L286.07 115.91L285.03 116.46L285.55 116.91L285.05 117.42L285.07 117.89L285.12 118.37L285.09 118.85L285.63 119.32L285.1 119.8L285.31 120.28L285.2 120.75L285.6 121.24L285.07 121.71L285.39 122.2L285.05 122.66L285 123.13L285.27 123.63L285.1 124.1L284.89 124.56L284.85 125.03L284.8 125.51L284.75 125.98L285.14 126.51L285.68 127.06L286.26 127.64L285.12 127.96L284.43 128.34L284.35 128.81L284.53 129.33L286.04 130.09L284.1 130.22L284.93 130.87L285.76 131.55L284.63 131.8L283.7 132.08L283.59 132.55L283.48 133.01L283.36 133.47L283.24 133.93L283.11 134.39L282.98 134.85L283.06 135.37L282.71 135.76L282.87 136.31L282.45 136.68L282.95 137.35L282.57 137.73L281.97 138.03L281.81 138.47L281.64 138.92L281.47 139.37L281.3 139.81L281.48 140.4L280.94 140.69L280.76 141.13L281.12 141.81L280.8 142.2L280.18 142.44L279.98 142.87L280.02 143.42L279.57 143.74L279.36 144.16L279.15 144.59L278.94 145.02L278.99 145.58L278.75 146L278.25 146.27L278.02 146.69L277.78 147.1L277.63 147.56L277.3 147.92L277.05 148.33L278.13 149.56L276.55 149.14L276.29 149.54L276.03 149.94L276.1 150.56L276.06 151.11L275.65 151.42L275.56 151.94L274.95 152.09L274.39 152.28L274.11 152.66L274.09 153.25L274.74 154.37L273.23 153.79L272.93 154.16L272.8 154.67L273.64 156L272.36 155.55L272.06 155.93L271.39 155.98L271.14 156.39L270.76 156.69L270.43 157.04L270.31 157.57L269.78 157.73L269.86 158.48L269.21 158.51L268.94 158.91L268.5 159.15L268.08 159.41L268.16 160.19L267.39 160.06L267.03 160.38L267.4 161.51L266.32 161.01L265.96 161.32L265.6 161.63L265.23 161.93L264.86 162.23L264.49 162.53L264.35 163.12L264.67 164.33L264.17 164.49L262.98 163.69L262.59 163.97L262.44 164.58L261.82 164.53L261.43 164.8L261.69 166.04L261.29 166.32L261.28 167.2L260.28 166.54L259.51 166.23L259.03 166.35L258.62 166.6L258.45 167.25L257.8 167.08L257.39 167.32L256.97 167.55L256.55 167.78L256.13 168.01L255.83 168.46L255.5 168.86L255.14 169.23L254.53 169.06L254.03 169.13L253.57 169.28L253.14 169.48L252.71 169.68L252.27 169.87L251.83 170.06L251.39 170.24L251.06 170.69L250.51 170.6L250.21 171.15L249.87 171.6L249.17 171.11L248.81 171.51L248.28 171.43L248.14 172.53L247.37 171.73L247.12 172.5L246.86 173.32L246.38 173.42L245.79 173.13L245.09 172.41L244.81 173.22L244.31 173.19L243.71 172.78L243.28 173.04L242.78 173L242.36 173.31L241.87 173.31L241.52 173.97L240.94 173.48L240.46 173.55L240.05 173.95L239.51 173.65L239.1 174.12L238.58 173.88L238.1 173.87L237.63 173.93L237.15 173.99L236.68 174.05L236.21 174.14L235.73 174.15L235.27 174.32L234.86 175.22L234.34 174.72L233.83 174.3L233.42 175.53L232.9 174.69L232.42 174.82L231.93 174.38L231.45 174.42L230.98 174.91L230.5 175.29L230.02 174.4L229.55 174.39L229.06 174.89L228.59 174.37L228.11 174.46L227.64 174.33L227.17 174.3L226.69 174.27L226.22 174.23L225.74 174.19L225.27 174.16L224.74 174.65L224.32 174.05L223.8 174.35L223.26 174.77L222.7 175.3L222.3 174.64L221.93 173.92L221.49 173.65L221.02 173.57L220.55 173.49L220.08 173.4L219.61 173.3L219.14 173.26L218.55 173.68L218.22 173L217.75 172.89L217.26 172.9L216.83 172.66L216.32 172.72L215.73 173.05L215.04 173.72L214.99 172.15L214.54 172.01L213.95 172.28L213.31 172.7L212.84 172.57L212.72 171.43L212.27 171.27L211.83 171.11L211.38 170.94L210.83 171.04L210.49 170.6L210.05 170.42L209.61 170.24L208.94 170.58L208.21 171.07L208.1 170.1L207.86 169.48L207.43 169.28L206.73 169.63L206.56 168.87L206.14 168.66L205.55 168.77L205.29 168.23L204.87 168.01L204.38 167.9L203.81 167.95L203.53 167.47L203.2 167.08L202.79 166.84L202.38 166.6L201.97 166.35L201.57 166.1L200.8 166.42L200.51 165.98L200.36 165.33L199.97 165.07L199.57 164.8L198.64 165.3L198.47 164.71L198.34 164.06L198.02 163.69L197.43 163.68L196.72 163.83L196.88 162.83L196.51 162.53L196.14 162.23L195.77 161.93L195.4 161.63L195.04 161.32L194.55 161.16L194.32 160.69L193.97 160.38L192.88 160.85L192.9 160.13L192.55 159.79L192.17 159.49L191.5 159.49L191.28 159.02L191.15 158.47L190.7 158.24L190.89 157.38L190.57 157.04L189.24 157.6L189.47 156.75L189.5 156.07L189.29 155.62L188.68 155.51L188.67 154.9L188.37 154.53L188.07 154.16L187.77 153.79L187.45 153.44L186.87 153.28L186.59 152.89L186.61 152.28L185.66 152.37L186.05 151.51L185.77 151.12L185.48 150.74L185.03 150.47L184.33 150.36L184.71 149.54L184.45 149.14L183.76 149.01L183.95 148.33L183.7 147.92L183.46 147.51L182.7 147.39L181.91 147.29L182.32 146.51L182.52 145.85L182.29 145.43L182.07 145.01L181.85 144.59L181.49 144.23L181.42 143.74L181.22 143.31L180.63 143.05L180.13 142.75L180.62 142.01L180.16 141.69L180.24 141.13L179.65 140.86L179.81 140.28L179.7 139.81L179.22 139.49L179.36 138.92L178.87 138.59L179.03 138.03L178.87 137.58L178.2 137.3L178.57 136.67L178.27 136.27L178.21 135.79L177.89 135.39L177.35 135.04L177.36 134.54L176.59 134.25L177.17 133.59L176.64 133.23L177.41 132.55L176.31 132.31L177.11 131.64L177 131.17L175.03 131.09L176.55 130.29L175.29 130.03L175.91 129.43L176.65 128.81L176.57 128.34L176.5 127.87L176.43 127.4L176.37 126.93L176.31 126.45L176.03 126.01L175.91 125.54L175.52 125.09L175.87 124.58L175.65 124.12L175.82 123.62L176 123.13L175.67 122.67L174.12 122.26L174.69 121.75L174.14 121.28L175.91 120.75L175.11 120.28L175.16 119.8L174.95 119.32L175.91 118.85L175.92 118.37L175.93 117.89L175.29 117.39L175.97 116.94L176 116.47L174.92 115.91L175.77 115.49L176.11 115.04L176.15 114.57L176.2 114.09L176.14 113.61L175.56 113.05L176.37 112.67L176.43 112.2L176.12 111.67L176.57 111.26L176.65 110.79L176.73 110.32L176.24 109.74L176.6 109.32L176.56 108.83L176.12 108.24L176.19 107.76L177.14 107.48L176.98 106.95L177.52 106.59L177.05 105.98L177.76 105.67L177.89 105.21L177.59 104.63L177.66 104.15L178.29 103.84L178.35 103.36L178.5 102.9L178.72 102.48L178.87 102.02L179.03 101.57L178.59 100.91L179.36 100.68L179.53 100.23L179.7 99.79L179.2 99.08L180.06 98.91L180.24 98.47L180.43 98.03L180.62 97.59L180.82 97.16L180.93 96.68L180.91 96.14L180.99 95.65L181.64 95.44L181.85 95.01L182.04 94.57L182.29 94.17L181.68 93.29L182.75 93.33L182.74 92.78L183.16 92.47L183.46 92.09L183.7 91.68L183.95 91.27L184.2 90.87L184.16 90.28L184.24 89.76L184.97 89.66L185.23 89.27L185.5 88.87L185.1 88.01L185.15 87.45L185.12 86.83L186.4 87.17L186.02 86.28L186.04 85.68L186.4 85.35L187.62 85.69L188.07 85.44L188.37 85.07L188.38 84.46L188.98 84.34L189.29 83.98L189.61 83.62L189.92 83.27L190.24 82.91L190.57 82.56L190.89 82.22L191.16 81.81L191.56 81.53L191.89 81.19L192.23 80.86L192.56 80.51L192.8 80.08L192.3 78.83L193.61 79.54L192.92 78.07L194.3 78.88L194.68 78.59L195.04 78.28L194.46 76.85L194.58 76.22L196.14 77.37L196.27 76.77L196.76 76.61L196.92 76.04L197.64 76.19L198.02 75.91L198.41 75.63L198.79 75.35L199.18 75.07L199.39 74.54L199.97 74.53L200.36 74.27L200.74 73.97L200.58 72.83L201.24 72.98L201.93 73.18L202.35 72.95L202.53 72.32L203.01 72.19L203.61 72.28L203.89 71.8L204.45 71.82L204.87 71.59L205.29 71.37L205.56 70.86L206.14 70.94L206.48 70.56L206.9 70.31L207.43 70.32L207.86 70.12L208.29 69.92L208.73 69.73L209.17 69.54L209.61 69.36L209.91 68.84L210.24 68.37L210.76 68.36L211.16 68.06L211.43 67.4L212.22 68.18L212.5 67.51L212.85 67.05L213.63 67.87L213.78 66.76L214.5 67.47L214.99 67.45L215.45 67.32L215.85 66.96L215.96 65.53L216.77 66.69L217.24 66.62L217.75 66.71L218.22 66.6L218.68 66.49L219.15 66.39L219.61 66.3L220.08 66.2L220.55 66.11L221.02 66.03L221.49 65.95L221.96 65.87L222.38 65.45L222.9 65.73L223.37 65.64L223.84 65.52L224.26 65.08L224.77 65.27L225.25 65.27L225.74 65.41L226.15 64.55L226.69 65.33L227.17 65.3L227.64 65.27L228.11 65L228.56 64.2L229.05 64.36L229.53 64.24L230.02 65.09L230.5 65.18L230.5 65.2L230.02 65.2L229.55 65.21L229.07 65.22L228.59 65.23L228.12 65.25L227.64 65.27L227.17 65.3L226.69 65.33L226.22 65.37L225.74 65.41L225.27 65.45L224.79 65.5L224.32 65.55L223.85 65.61L223.37 65.67L222.9 65.73L222.43 65.8L221.96 65.87L221.49 65.95L221.02 66.03L220.55 66.11L220.08 66.2L219.61 66.3L219.15 66.39L218.68 66.49L218.22 66.6L217.75 66.71L217.29 66.82L216.83 66.94L216.37 67.06L215.91 67.19L215.45 67.32L214.99 67.45L214.54 67.59L214.08 67.73L213.63 67.87L213.18 68.02L212.72 68.17L212.27 68.33L211.83 68.49L211.38 68.66L210.93 68.83L210.49 69L210.05 69.18L209.61 69.36L209.17 69.54L208.73 69.73L208.29 69.92L207.86 70.12L207.43 70.32L206.99 70.52L206.56 70.73L206.14 70.94L205.71 71.15L205.29 71.37L204.87 71.59L204.45 71.82L204.03 72.05L203.61 72.28L203.2 72.52L202.79 72.76L202.38 73L201.97 73.25L201.57 73.5L201.16 73.75L200.76 74.01L200.36 74.27L199.97 74.53L199.57 74.8L199.18 75.07L198.79 75.35L198.41 75.63L198.02 75.91L197.64 76.19L197.26 76.48L196.88 76.77L196.51 77.07L196.14 77.37L195.77 77.67L195.4 77.97L195.04 78.28L194.68 78.59L194.32 78.91L193.97 79.22L193.61 79.54L193.26 79.87L192.92 80.19L192.57 80.52L192.23 80.86L191.89 81.19L191.56 81.53L191.22 81.87L190.89 82.22L190.57 82.56L190.24 82.91L189.92 83.27L189.61 83.62L189.29 83.98L188.98 84.34L188.67 84.7L188.37 85.07L188.07 85.44L187.77 85.81L187.47 86.18L187.18 86.56L186.89 86.94L186.61 87.32L186.33 87.71L186.05 88.09L185.77 88.48L185.5 88.87L185.23 89.27L184.97 89.66L184.71 90.06L184.45 90.46L184.2 90.87L183.95 91.27L183.7 91.68L183.46 92.09L183.22 92.5L182.98 92.91L182.75 93.33L182.52 93.75L182.29 94.17L182.07 94.59L181.85 95.01L181.64 95.44L181.43 95.86L181.22 96.29L181.02 96.73L180.82 97.16L180.62 97.59L180.43 98.03L180.24 98.47L180.06 98.91L179.88 99.35L179.7 99.79L179.53 100.23L179.36 100.68L179.19 101.13L179.03 101.57L178.87 102.02L178.72 102.48L178.57 102.93L178.43 103.38L178.29 103.84L178.15 104.29L178.02 104.75L177.89 105.21L177.76 105.67L177.64 106.13L177.52 106.59L177.41 107.05L177.3 107.52L177.19 107.98L177.09 108.45L177 108.91L176.9 109.38L176.81 109.85L176.73 110.32L176.65 110.79L176.57 111.26L176.5 111.73L176.43 112.2L176.37 112.67L176.31 113.15L176.25 113.62L176.2 114.09L176.15 114.57L176.11 115.04L176.07 115.52L176.03 115.99L176 116.47L175.97 116.94L175.95 117.42L175.93 117.89L175.92 118.37L175.91 118.85L175.9 119.32L175.9 119.8L175.9 120.28L175.91 120.75L175.92 121.23L175.93 121.71L175.95 122.18L175.97 122.66L176 123.13L176.03 123.61L176.07 124.08L176.11 124.56L176.15 125.03L176.2 125.51L176.25 125.98L176.31 126.45L176.37 126.93L176.43 127.4L176.5 127.87L176.57 128.34L176.65 128.81L176.73 129.28L176.81 129.75L176.9 130.22L177 130.69L177.09 131.15L177.19 131.62L177.3 132.08L177.41 132.55L177.52 133.01L177.64 133.47L177.76 133.93L177.89 134.39L178.02 134.85L178.15 135.31L178.29 135.76L178.43 136.22L178.57 136.67L178.72 137.12L178.87 137.58L179.03 138.03L179.19 138.47L179.36 138.92L179.53 139.37L179.7 139.81L179.88 140.25L180.06 140.69L180.24 141.13L180.43 141.57L180.62 142.01L180.82 142.44L181.02 142.87L181.22 143.31L181.43 143.74L181.64 144.16L181.85 144.59L182.07 145.01L182.29 145.43L182.52 145.85L182.75 146.27L182.98 146.69L183.22 147.1L183.46 147.51L183.7 147.92L183.95 148.33L184.2 148.73L184.45 149.14L184.71 149.54L184.97 149.94L185.23 150.33L185.5 150.73L185.77 151.12L186.05 151.51L186.33 151.89L186.61 152.28L186.89 152.66L187.18 153.04L187.47 153.42L187.77 153.79L188.07 154.16L188.37 154.53L188.67 154.9L188.98 155.26L189.29 155.62L189.61 155.98L189.92 156.33L190.24 156.69L190.57 157.04L190.89 157.38L191.22 157.73L191.56 158.07L191.89 158.41L192.23 158.74L192.57 159.08L192.92 159.41L193.26 159.73L193.61 160.06L193.97 160.38L194.32 160.69L194.68 161.01L195.04 161.32L195.4 161.63L195.77 161.93L196.14 162.23L196.51 162.53L196.88 162.83L197.26 163.12L197.64 163.41L198.02 163.69L198.41 163.97L198.79 164.25L199.18 164.53L199.57 164.8L199.97 165.07L200.36 165.33L200.76 165.59L201.16 165.85L201.57 166.1L201.97 166.35L202.38 166.6L202.79 166.84L203.2 167.08L203.61 167.32L204.03 167.55L204.45 167.78L204.87 168.01L205.29 168.23L205.71 168.45L206.14 168.66L206.56 168.87L206.99 169.08L207.43 169.28L207.86 169.48L208.29 169.68L208.73 169.87L209.17 170.06L209.61 170.24L210.05 170.42L210.49 170.6L210.93 170.77L211.38 170.94L211.83 171.11L212.27 171.27L212.72 171.43L213.18 171.58L213.63 171.73L214.08 171.87L214.54 172.01L214.99 172.15L215.45 172.28L215.91 172.41L216.37 172.54L216.83 172.66L217.29 172.78L217.75 172.89L218.22 173L218.68 173.11L219.15 173.21L219.61 173.3L220.08 173.4L220.55 173.49L221.02 173.57L221.49 173.65L221.96 173.73L222.43 173.8L222.9 173.87L223.37 173.93L223.85 173.99L224.32 174.05L224.79 174.1L225.27 174.15L225.74 174.19L226.22 174.23L226.69 174.27L227.17 174.3L227.64 174.33L228.12 174.35L228.59 174.37L229.07 174.38L229.55 174.39L230.02 174.4L230.5 174.4L230.98 174.4L231.45 174.39L231.93 174.38L232.41 174.37L232.88 174.35L233.36 174.33L233.83 174.3L234.31 174.27L234.78 174.23L235.26 174.19L235.73 174.15L236.21 174.1L236.68 174.05L237.15 173.99L237.63 173.93L238.1 173.87L238.57 173.8L239.04 173.73L239.51 173.65L239.98 173.57L240.45 173.49L240.92 173.4L241.39 173.3L241.85 173.21L242.32 173.11L242.78 173L243.25 172.89L243.71 172.78L244.17 172.66L244.63 172.54L245.09 172.41L245.55 172.28L246.01 172.15L246.46 172.01L246.92 171.87L247.37 171.73L247.82 171.58L248.28 171.43L248.73 171.27L249.17 171.11L249.62 170.94L250.07 170.77L250.51 170.6L250.95 170.42L251.39 170.24L251.83 170.06L252.27 169.87L252.71 169.68L253.14 169.48L253.57 169.28L254.01 169.08L254.44 168.87L254.86 168.66L255.29 168.45L255.71 168.23L256.13 168.01L256.55 167.78L256.97 167.55L257.39 167.32L257.8 167.08L258.21 166.84L258.62 166.6L259.03 166.35L259.43 166.1L259.84 165.85L260.24 165.59L260.64 165.33L261.03 165.07L261.43 164.8L261.82 164.53L262.21 164.25L262.59 163.97L262.98 163.69L263.36 163.41L263.74 163.12L264.12 162.83L264.49 162.53L264.86 162.23L265.23 161.93L265.6 161.63L265.96 161.32L266.32 161.01L266.68 160.69L267.03 160.38L267.39 160.06L267.74 159.73L268.08 159.41L268.43 159.08L268.77 158.74L269.11 158.41L269.44 158.07L269.78 157.73L270.11 157.38L270.43 157.04L270.76 156.69L271.08 156.33L271.39 155.98L271.71 155.62L272.02 155.26L272.33 154.9L272.63 154.53L272.93 154.16L273.23 153.79L273.53 153.42L273.82 153.04L274.11 152.66L274.39 152.28L274.67 151.89L274.95 151.51L275.23 151.12L275.5 150.73L275.77 150.33L276.03 149.94L276.29 149.54L276.55 149.14L276.8 148.73L277.05 148.33L277.3 147.92L277.54 147.51L277.78 147.1L278.02 146.69L278.25 146.27L278.48 145.85L278.71 145.43L278.93 145.01L279.15 144.59L279.36 144.16L279.57 143.74L279.78 143.31L279.98 142.87L280.18 142.44L280.38 142.01L280.57 141.57L280.76 141.13L280.94 140.69L281.12 140.25L281.3 139.81L281.47 139.37L281.64 138.92L281.81 138.47L281.97 138.03L282.13 137.58L282.28 137.12L282.43 136.67L282.57 136.22L282.71 135.76L282.85 135.31L282.98 134.85L283.11 134.39L283.24 133.93L283.36 133.47L283.48 133.01L283.59 132.55L283.7 132.08L283.81 131.62L283.91 131.15L284 130.69L284.1 130.22L284.19 129.75L284.27 129.28L284.35 128.81L284.43 128.34L284.5 127.87L284.57 127.4L284.63 126.93L284.69 126.45L284.75 125.98L284.8 125.51L284.85 125.03L284.89 124.56L284.93 124.08L284.97 123.61L285 123.13L285.03 122.66L285.05 122.18L285.07 121.71L285.08 121.23L285.09 120.75L285.1 120.28L285.1 119.8L285.1 119.32L285.09 118.85L285.08 118.37L285.07 117.89L285.05 117.42L285.03 116.94L285 116.47L284.97 115.99L284.93 115.52L284.89 115.04L284.85 114.57L284.8 114.09L284.75 113.62L284.69 113.15L284.63 112.67L284.57 112.2L284.5 111.73L284.43 111.26L284.35 110.79L284.27 110.32L284.19 109.85L284.1 109.38L284 108.91L283.91 108.45L283.81 107.98L283.7 107.52L283.59 107.05L283.48 106.59L283.36 106.13L283.24 105.67L283.11 105.21L282.98 104.75L282.85 104.29L282.71 103.84L282.57 103.38L282.43 102.93L282.28 102.48L282.13 102.02L281.97 101.57L281.81 101.13L281.64 100.68L281.47 100.23L281.3 99.79L281.12 99.35L280.94 98.91L280.76 98.47L280.57 98.03L280.38 97.59L280.18 97.16L279.98 96.73L279.78 96.29L279.57 95.86L279.36 95.44L279.15 95.01L278.93 94.59L278.71 94.17L278.48 93.75L278.25 93.33L278.02 92.91L277.78 92.5L277.54 92.09L277.3 91.68L277.05 91.27L276.8 90.87L276.55 90.46L276.29 90.06L276.03 89.66L275.77 89.27L275.5 88.87L275.23 88.48L274.95 88.09L274.67 87.71L274.39 87.32L274.11 86.94L273.82 86.56L273.53 86.18L273.23 85.81L272.93 85.44L272.63 85.07L272.33 84.7L272.02 84.34L271.71 83.98L271.39 83.62L271.08 83.27L270.76 82.91L270.43 82.56L270.11 82.22L269.78 81.87L269.44 81.53L269.11 81.19L268.77 80.86L268.43 80.52L268.08 80.19L267.74 79.87L267.39 79.54L267.03 79.22L266.68 78.91L266.32 78.59L265.96 78.28L265.6 77.97L265.23 77.67L264.86 77.37L264.49 77.07L264.12 76.77L263.74 76.48L263.36 76.19L262.98 75.91L262.59 75.63L262.21 75.35L261.82 75.07L261.43 74.8L261.03 74.53L260.64 74.27L260.24 74.01L259.84 73.75L259.43 73.5L259.03 73.25L258.62 73L258.21 72.76L257.8 72.52L257.39 72.28L256.97 72.05L256.55 71.82L256.13 71.59L255.71 71.37L255.29 71.15L254.86 70.94L254.44 70.73L254.01 70.52L253.57 70.32L253.14 70.12L252.71 69.92L252.27 69.73L251.83 69.54L251.39 69.36L250.95 69.18L250.51 69L250.07 68.83L249.62 68.66L249.17 68.49L248.73 68.33L248.28 68.17L247.82 68.02L247.37 67.87L246.92 67.73L246.46 67.59L246.01 67.45L245.55 67.32L245.09 67.19L244.63 67.06L244.17 66.94L243.71 66.82L243.25 66.71L242.78 66.6L242.32 66.49L241.85 66.39L241.39 66.3L240.92 66.2L240.45 66.11L239.98 66.03L239.51 65.95L239.04 65.87L238.57 65.8L238.1 65.73L237.63 65.67L237.15 65.61L236.68 65.55L236.21 65.5L235.73 65.45L235.26 65.41L234.78 65.37L234.31 65.33L233.83 65.3L233.36 65.27L232.88 65.25L232.41 65.23L231.93 65.22L231.45 65.21L230.98 65.2L230.5 65.2Z" fill="#2FA55A" stroke="#2FA55A" stroke-width="0.4"/>
<text x="249.4" y="81.15" font-size="3.2" text-anchor="middle" fill="#111">200 kbp</text>
<text x="263.7" y="93.15" font-size="3.2" text-anchor="middle" fill="#111">400 kbp</text>
<text x="270.2" y="110.15" font-size="3.2" text-anchor="middle" fill="#111">600 kbp</text>
<text x="270.2" y="130.15" font-size="3.2" text-anchor="middle" fill="#111">800 kbp</text>
<text x="264" y="147.15" font-size="3.2" text-anchor="middle" fill="#111">1000 kbp</text>
<text x="250.8" y="159.65" font-size="3.2" text-anchor="middle" fill="#111">1200 kbp</text>
<text x="231.7" y="164.85" font-size="3.2" text-anchor="middle" fill="#111">1400 kbp</text>
<text x="212.7" y="160.95" font-size="3.2" text-anchor="middle" fill="#111">1600 kbp</text>
<text x="198" y="149.55" font-size="3.2" text-anchor="middle" fill="#111">1800 kbp</text>
<text x="191.2" y="132.55" font-size="3.2" text-anchor="middle" fill="#111">2000 kbp</text>
<text x="191.2" y="113.55" font-size="3.2" text-anchor="middle" fill="#111">2200 kbp</text>
<text x="196" y="95.65" font-size="3.2" text-anchor="middle" fill="#111">2400 kbp</text>
<text x="208.8" y="82.45" font-size="3.2" text-anchor="middle" fill="#111">2600 kbp</text>
<text x="228" y="77.15" font-size="3.2" text-anchor="middle" fill="#111">2800 kbp</text>
<text x="231.8" y="120.8" font-size="9.1" font-style="italic" text-anchor="middle" class="m">B. infantis</text>
<path d="M177.57 29.58A104.6 104.6 0 0 1 186.29 25" fill="none" stroke="#000" stroke-width="2.0"/>
<rect x="145" y="57.2" width="2.4" height="2.4" fill="#000" transform="rotate(-55 146.2 58.4)"/>
<rect x="259.05" y="18.55" width="2.5" height="2.5" fill="#000" transform="rotate(15 260.3 19.8)"/>
<rect x="292.3" y="35.1" width="2.4" height="2.4" fill="#000" transform="rotate(38 293.5 36.3)"/>
<rect x="322" y="70.4" width="2.4" height="2.4" fill="#000" transform="rotate(62 323.2 71.6)"/>
<rect x="333.4" y="127.2" width="3.0" height="3.0" fill="#000" transform="rotate(0 334.9 128.7)"/>
<text x="172.6" y="22.6" font-size="10.2" class="b">H1</text>
<text x="134.2" y="56.1" font-size="10.2" class="b">H5</text>
<text x="254.2" y="14.5" font-size="10.5" class="b">Urease</text>
<text x="294.6" y="31.8" font-size="10.2" class="b">H2</text>
<text x="326.6" y="69.5" font-size="10.2" class="b">H3</text>
<text x="340.8" y="129.6" font-size="10.2" class="b">H4</text>
<text x="6.4" y="32.9" font-size="9">(a)</text>
</g>
<g id="panel-b">
<text x="6.4" y="249.8" font-size="9">(b)</text>
<rect x="148.0" y="297.9" width="246.73" height="217.14" fill="#6E3D85"/>
<rect x="148" y="297.9" width="4.25" height="15.51" fill="#4F80BE"/>
<rect x="203.3" y="297.9" width="4.25" height="15.51" fill="#6A60B0"/>
<rect x="233.08" y="297.9" width="4.25" height="15.51" fill="#6EC070"/>
<rect x="237.33" y="297.9" width="4.25" height="15.51" fill="#92D870"/>
<rect x="241.59" y="297.9" width="4.25" height="15.51" fill="#6EC070"/>
<rect x="250.1" y="297.9" width="4.25" height="15.51" fill="#6A52A2"/>
<rect x="322.41" y="297.9" width="4.25" height="15.51" fill="#694C96"/>
<rect x="330.92" y="297.9" width="4.25" height="15.51" fill="#B4D843"/>
<rect x="335.18" y="297.9" width="4.25" height="15.51" fill="#9CD05E"/>
<rect x="339.43" y="297.9" width="4.25" height="15.51" fill="#F6F032"/>
<rect x="322.41" y="313.41" width="4.25" height="15.51" fill="#694C96"/>
<rect x="330.92" y="313.41" width="4.25" height="15.51" fill="#B4D843"/>
<rect x="335.18" y="313.41" width="4.25" height="15.51" fill="#9CD05E"/>
<rect x="339.43" y="313.41" width="4.25" height="15.51" fill="#F6F032"/>
<rect x="322.41" y="328.92" width="4.25" height="15.51" fill="#694C96"/>
<rect x="330.92" y="328.92" width="4.25" height="15.51" fill="#B4D843"/>
<rect x="335.18" y="328.92" width="4.25" height="15.51" fill="#9CD05E"/>
<rect x="339.43" y="328.92" width="4.25" height="15.51" fill="#F6F032"/>
<rect x="322.41" y="344.43" width="4.25" height="15.51" fill="#694C96"/>
<rect x="330.92" y="344.43" width="4.25" height="15.51" fill="#B4D843"/>
<rect x="335.18" y="344.43" width="4.25" height="15.51" fill="#9CD05E"/>
<rect x="339.43" y="344.43" width="4.25" height="15.51" fill="#F6F032"/>
<rect x="322.41" y="359.94" width="4.25" height="15.51" fill="#694C96"/>
<rect x="330.92" y="359.94" width="4.25" height="15.51" fill="#B4D843"/>
<rect x="335.18" y="359.94" width="4.25" height="15.51" fill="#9CD05E"/>
<rect x="339.43" y="359.94" width="4.25" height="15.51" fill="#F6F032"/>
<rect x="322.41" y="375.45" width="4.25" height="15.51" fill="#694C96"/>
<rect x="330.92" y="375.45" width="4.25" height="15.51" fill="#B4D843"/>
<rect x="335.18" y="375.45" width="4.25" height="15.51" fill="#9CD05E"/>
<rect x="339.43" y="375.45" width="4.25" height="15.51" fill="#F6F032"/>
<rect x="322.41" y="390.96" width="4.25" height="15.51" fill="#694C96"/>
<rect x="330.92" y="390.96" width="4.25" height="15.51" fill="#B4D843"/>
<rect x="335.18" y="390.96" width="4.25" height="15.51" fill="#9CD05E"/>
<rect x="339.43" y="390.96" width="4.25" height="15.51" fill="#F6F032"/>
<rect x="322.41" y="406.47" width="4.25" height="15.51" fill="#694C96"/>
<rect x="330.92" y="406.47" width="4.25" height="15.51" fill="#B4D843"/>
<rect x="335.18" y="406.47" width="4.25" height="15.51" fill="#9CD05E"/>
<rect x="339.43" y="406.47" width="4.25" height="15.51" fill="#F6F032"/>
<rect x="322.41" y="421.98" width="4.25" height="15.51" fill="#694C96"/>
<rect x="330.92" y="421.98" width="4.25" height="15.51" fill="#B4D843"/>
<rect x="335.18" y="421.98" width="4.25" height="15.51" fill="#9CD05E"/>
<rect x="339.43" y="421.98" width="4.25" height="15.51" fill="#F6F032"/>
<rect x="322.41" y="437.49" width="4.25" height="15.51" fill="#694C96"/>
<rect x="330.92" y="437.49" width="4.25" height="15.51" fill="#B4D843"/>
<rect x="335.18" y="437.49" width="4.25" height="15.51" fill="#9CD05E"/>
<rect x="339.43" y="437.49" width="4.25" height="15.51" fill="#F6F032"/>
<rect x="322.41" y="453" width="4.25" height="15.51" fill="#694C96"/>
<rect x="330.92" y="453" width="4.25" height="15.51" fill="#B4D843"/>
<rect x="335.18" y="453" width="4.25" height="15.51" fill="#9CD05E"/>
<rect x="339.43" y="453" width="4.25" height="15.51" fill="#F6F032"/>
<rect x="173.52" y="313.41" width="4.25" height="15.51" fill="#5B72BC"/>
<rect x="186.29" y="313.41" width="4.25" height="15.51" fill="#6667B5"/>
<rect x="199.05" y="313.41" width="4.25" height="15.51" fill="#6C57A8"/>
<rect x="173.52" y="328.92" width="4.25" height="15.51" fill="#5B72BC"/>
<rect x="186.29" y="328.92" width="4.25" height="15.51" fill="#6667B5"/>
<rect x="199.05" y="328.92" width="4.25" height="15.51" fill="#6C57A8"/>
<rect x="173.52" y="344.43" width="4.25" height="15.51" fill="#5B72BC"/>
<rect x="186.29" y="344.43" width="4.25" height="15.51" fill="#6667B5"/>
<rect x="199.05" y="344.43" width="4.25" height="15.51" fill="#6C57A8"/>
<rect x="173.52" y="359.94" width="4.25" height="15.51" fill="#5B72BC"/>
<rect x="186.29" y="359.94" width="4.25" height="15.51" fill="#6667B5"/>
<rect x="199.05" y="359.94" width="4.25" height="15.51" fill="#6C57A8"/>
<rect x="173.52" y="375.45" width="4.25" height="15.51" fill="#5B72BC"/>
<rect x="186.29" y="375.45" width="4.25" height="15.51" fill="#6667B5"/>
<rect x="199.05" y="375.45" width="4.25" height="15.51" fill="#6C57A8"/>
<rect x="173.52" y="390.96" width="4.25" height="15.51" fill="#5B72BC"/>
<rect x="186.29" y="390.96" width="4.25" height="15.51" fill="#6667B5"/>
<rect x="199.05" y="390.96" width="4.25" height="15.51" fill="#6C57A8"/>
<rect x="173.52" y="406.47" width="4.25" height="15.51" fill="#5B72BC"/>
<rect x="186.29" y="406.47" width="4.25" height="15.51" fill="#6667B5"/>
<rect x="199.05" y="406.47" width="4.25" height="15.51" fill="#6C57A8"/>
<rect x="173.52" y="421.98" width="4.25" height="15.51" fill="#5B72BC"/>
<rect x="186.29" y="421.98" width="4.25" height="15.51" fill="#6667B5"/>
<rect x="199.05" y="421.98" width="4.25" height="15.51" fill="#6C57A8"/>
<rect x="173.52" y="437.49" width="4.25" height="15.51" fill="#5B72BC"/>
<rect x="186.29" y="437.49" width="4.25" height="15.51" fill="#6667B5"/>
<rect x="199.05" y="437.49" width="4.25" height="15.51" fill="#6C57A8"/>
<rect x="173.52" y="453" width="4.25" height="15.51" fill="#5B72BC"/>
<rect x="186.29" y="453" width="4.25" height="15.51" fill="#6667B5"/>
<rect x="199.05" y="453" width="4.25" height="15.51" fill="#6C57A8"/>
<rect x="173.52" y="499.53" width="4.25" height="15.51" fill="#3FA2B6"/>
<path d="M148 297.9V515.04M152.25 297.9V515.04M156.51 297.9V515.04M160.76 297.9V515.04M165.02 297.9V515.04M169.27 297.9V515.04M173.52 297.9V515.04M177.78 297.9V515.04M182.03 297.9V515.04M186.29 297.9V515.04M190.54 297.9V515.04M194.79 297.9V515.04M199.05 297.9V515.04M203.3 297.9V515.04M207.56 297.9V515.04M211.81 297.9V515.04M216.06 297.9V515.04M220.32 297.9V515.04M224.57 297.9V515.04M228.83 297.9V515.04M233.08 297.9V515.04M237.33 297.9V515.04M241.59 297.9V515.04M245.84 297.9V515.04M250.1 297.9V515.04M254.35 297.9V515.04M258.6 297.9V515.04M262.86 297.9V515.04M267.11 297.9V515.04M271.37 297.9V515.04M275.62 297.9V515.04M279.87 297.9V515.04M284.13 297.9V515.04M288.38 297.9V515.04M292.64 297.9V515.04M296.89 297.9V515.04M301.14 297.9V515.04M305.4 297.9V515.04M309.65 297.9V515.04M313.91 297.9V515.04M318.16 297.9V515.04M322.41 297.9V515.04M326.67 297.9V515.04M330.92 297.9V515.04M335.18 297.9V515.04M339.43 297.9V515.04M343.68 297.9V515.04M347.94 297.9V515.04M352.19 297.9V515.04M356.45 297.9V515.04M360.7 297.9V515.04M364.95 297.9V515.04M369.21 297.9V515.04M373.46 297.9V515.04M377.72 297.9V515.04M381.97 297.9V515.04M386.22 297.9V515.04M390.48 297.9V515.04M394.73 297.9V515.04" stroke="#1d0f28" stroke-opacity="0.62" stroke-width="0.75" fill="none"/>
<path d="M148 297.9H394.73M148 313.41H394.73M148 328.92H394.73M148 344.43H394.73M148 359.94H394.73M148 375.45H394.73M148 390.96H394.73M148 406.47H394.73M148 421.98H394.73M148 437.49H394.73M148 453H394.73M148 468.51H394.73M148 484.02H394.73M148 499.53H394.73M148 515.04H394.73" stroke="#160a20" stroke-opacity="0.8" stroke-width="0.8" fill="none"/>
<text transform="translate(151.2 295.9) rotate(-90)" font-size="5.8" fill="#111" class="g">Blon_2331</text>
<text transform="translate(159.76 295.9) rotate(-90)" font-size="5.8" fill="#111" class="g">Blon_2334</text>
<text transform="translate(168.31 295.9) rotate(-90)" font-size="5.8" fill="#111" class="g">Blon_2342</text>
<text transform="translate(176.87 295.9) rotate(-90)" font-size="5.8" fill="#111" class="g">Blon_2344</text>
<text transform="translate(185.43 295.9) rotate(-90)" font-size="5.8" fill="#111" class="g">Blon_2346</text>
<text transform="translate(193.98 295.9) rotate(-90)" font-size="5.8" fill="#111" class="g">Blon_2348</text>
<text transform="translate(202.54 295.9) rotate(-90)" font-size="5.8" fill="#111" class="g">Blon_2351</text>
<text transform="translate(211.1 295.9) rotate(-90)" font-size="5.8" fill="#111" class="g">Blon_2354</text>
<text transform="translate(219.66 295.9) rotate(-90)" font-size="5.8" fill="#111" class="g">Blon_2357</text>
<text transform="translate(228.21 295.9) rotate(-90)" font-size="5.8" fill="#111" class="g">Blon_2360</text>
<text transform="translate(236.77 295.9) rotate(-90)" font-size="5.8" fill="#111" class="g">Blon_0243</text>
<text transform="translate(245.33 295.9) rotate(-90)" font-size="5.8" fill="#111" class="g">Blon_0245</text>
<text transform="translate(253.88 295.9) rotate(-90)" font-size="5.8" fill="#111" class="g">Blon_0248</text>
<text transform="translate(262.44 295.9) rotate(-90)" font-size="5.8" fill="#111" class="g">Blon_0425</text>
<text transform="translate(271 295.9) rotate(-90)" font-size="5.8" fill="#111" class="g">Blon_0641</text>
<text transform="translate(279.56 295.9) rotate(-90)" font-size="5.8" fill="#111" class="g">Blon_0643</text>
<text transform="translate(288.11 295.9) rotate(-90)" font-size="5.8" fill="#111" class="g">Blon_0645</text>
<text transform="translate(296.67 295.9) rotate(-90)" font-size="5.8" fill="#111" class="g">Blon_0647</text>
<text transform="translate(305.23 295.9) rotate(-90)" font-size="5.8" fill="#111" class="g">Blon_0649</text>
<text transform="translate(313.78 295.9) rotate(-90)" font-size="5.8" fill="#111" class="g">Blon_0651</text>
<text transform="translate(322.34 295.9) rotate(-90)" font-size="5.8" fill="#111" class="g">Blon_2172</text>
<text transform="translate(330.9 295.9) rotate(-90)" font-size="5.8" fill="#111" class="g">Blon_2174</text>
<text transform="translate(339.45 295.9) rotate(-90)" font-size="5.8" fill="#111" class="g">Blon_2176</text>
<text transform="translate(348.01 295.9) rotate(-90)" font-size="5.8" fill="#111" class="g">Blon_0104</text>
<text transform="translate(356.57 295.9) rotate(-90)" font-size="5.8" fill="#111" class="g">Blon_0106</text>
<text transform="translate(365.12 295.9) rotate(-90)" font-size="5.8" fill="#111" class="g">Blon_0108</text>
<text transform="translate(373.68 295.9) rotate(-90)" font-size="5.8" fill="#111" class="g">Blon_0110</text>
<text transform="translate(382.24 295.9) rotate(-90)" font-size="5.8" fill="#111" class="g">Blon_0112</text>
<text transform="translate(390.8 295.9) rotate(-90)" font-size="5.8" fill="#111" class="g">Blon_0114</text>
<path d="M147.3 263.6H395.4M147.3 263.6V268.20000000000005M232.86 263.6V273.0M254.25 263.6V273.0M267.08 263.6V273.0M314.14 263.6V273.0M344.09 263.6V273.0M395.42 263.6V273.0" stroke="#333" stroke-width="0.45" fill="none"/>
<text x="189.8" y="262.2" font-size="8.8" text-anchor="middle" class="m">H1</text>
<text x="243.2" y="262.2" font-size="8.8" text-anchor="middle" class="m">H2</text>
<text x="261.0" y="262.2" font-size="8.8" text-anchor="middle" class="m">H3</text>
<text x="290.3" y="262.2" font-size="8.8" text-anchor="middle" class="m">H4</text>
<text x="328.6" y="262.2" font-size="8.8" text-anchor="middle" class="m">H5</text>
<text x="369.6" y="262.2" font-size="8.8" text-anchor="middle" class="m">Urease</text>
<path d="M87.5 305.95L94.6 305.95M87.5 305.95L87.5 391M87.5 391L96.2 391M96.2 321.16L96.2 460.75M74.5 348.8L87.5 348.8M74.5 348.8L74.5 491.77M74.5 491.77L84 491.77M84 476.26L84 509.28M43.3 420.7L74.5 420.7M43.3 420.7L43.3 523M43.3 523L74.4 523" stroke="#333" stroke-width="0.5" fill="none"/>
<circle cx="94.6" cy="305.95" r="0.9" fill="#000"/>
<path d="M96 305.95H114.5" stroke="#bbb" stroke-width="0.4" stroke-dasharray="0.6 0.6" fill="none"/>
<circle cx="96.2" cy="321.16" r="0.9" fill="#000"/>
<path d="M97.5 321.16H114.3" stroke="#bbb" stroke-width="0.4" stroke-dasharray="0.6 0.6" fill="none"/>
<text x="117.3" y="323.16" font-size="7.7" class="m">PI 010</text>
<circle cx="96.2" cy="336.67" r="0.9" fill="#000"/>
<path d="M97.5 336.67H114.3" stroke="#bbb" stroke-width="0.4" stroke-dasharray="0.6 0.6" fill="none"/>
<text x="117.3" y="338.67" font-size="7.7" class="m">HA-116</text>
<circle cx="96.2" cy="352.18" r="0.9" fill="#000"/>
<path d="M97.5 352.18H114.3" stroke="#bbb" stroke-width="0.4" stroke-dasharray="0.6 0.6" fill="none"/>
<text x="117.3" y="354.18" font-size="7.7" class="m">PI 008</text>
<circle cx="96.2" cy="367.69" r="0.9" fill="#000"/>
<path d="M97.5 367.69H114.3" stroke="#bbb" stroke-width="0.4" stroke-dasharray="0.6 0.6" fill="none"/>
<text x="117.3" y="369.69" font-size="7.7" class="m">PI 002</text>
<circle cx="96.2" cy="383.2" r="0.9" fill="#000"/>
<path d="M97.5 383.2H114.3" stroke="#bbb" stroke-width="0.4" stroke-dasharray="0.6 0.6" fill="none"/>
<text x="117.3" y="385.2" font-size="7.7" class="m">PI 007</text>
<circle cx="96.2" cy="398.71" r="0.9" fill="#000"/>
<path d="M97.5 398.71H114.3" stroke="#bbb" stroke-width="0.4" stroke-dasharray="0.6 0.6" fill="none"/>
<text x="117.3" y="400.71" font-size="7.7" class="m">PI 009</text>
<circle cx="96.2" cy="414.22" r="0.9" fill="#000"/>
<path d="M97.5 414.22H114.3" stroke="#bbb" stroke-width="0.4" stroke-dasharray="0.6 0.6" fill="none"/>
<text x="117.3" y="416.22" font-size="7.7" class="m">R0033y</text>
<circle cx="96.2" cy="429.74" r="0.9" fill="#000"/>
<path d="M97.5 429.74H119.8" stroke="#bbb" stroke-width="0.4" stroke-dasharray="0.6 0.6" fill="none"/>
<text x="122.8" y="431.74" font-size="7.7" class="m">NLS</text>
<circle cx="96.2" cy="445.25" r="0.9" fill="#000"/>
<path d="M97.5 445.25H114.3" stroke="#bbb" stroke-width="0.4" stroke-dasharray="0.6 0.6" fill="none"/>
<text x="117.3" y="447.25" font-size="7.7" class="m">R0033x</text>
<circle cx="96.2" cy="460.75" r="0.9" fill="#000"/>
<path d="M97.5 460.75H114.3" stroke="#bbb" stroke-width="0.4" stroke-dasharray="0.6 0.6" fill="none"/>
<text x="117.3" y="462.75" font-size="7.7" class="m">PI 004</text>
<text x="116.4" y="305.0" font-size="7.7" class="m">BB–02</text>
<text x="109.6" y="311.6" font-size="5.8" class="m">(DSM 33361)</text>
<circle cx="84" cy="476.26" r="0.9" fill="#000"/>
<path d="M85.3 476.26H108.7" stroke="#bbb" stroke-width="0.4" stroke-dasharray="0.6 0.6" fill="none"/>
<text x="111.7" y="478.26" font-size="7.7" class="m">EVC001</text>
<circle cx="84" cy="491.77" r="0.9" fill="#000"/>
<path d="M85.3 491.77H97.9" stroke="#bbb" stroke-width="0.4" stroke-dasharray="0.6 0.6" fill="none"/>
<text x="100.9" y="493.77" font-size="7.7" class="m">ATCC 15697</text>
<circle cx="84" cy="507.28" r="0.9" fill="#000"/>
<path d="M85.3 507.28H103.7" stroke="#bbb" stroke-width="0.4" stroke-dasharray="0.6 0.6" fill="none"/>
<text x="106.7" y="509.28" font-size="7.7" class="m">JCM 1222</text>
<circle cx="74.4" cy="523" r="0.9" fill="#000"/>
<path d="M75.7 523H104" stroke="#bbb" stroke-width="0.4" stroke-dasharray="0.6 0.6" fill="none"/>
<text x="107.9" y="524.4" font-size="7.6" font-style="italic">outgroup</text>
<text transform="translate(67.3 349.6) rotate(-90)" font-size="10" text-anchor="middle" class="m">Group 2</text>
<text transform="translate(66.6 490.8) rotate(-90)" font-size="10" text-anchor="middle" class="m">Group 1</text>
<defs><linearGradient id="vg" x1="0" x2="1" y1="0" y2="0"><stop offset="0" stop-color="#ada21e"/><stop offset="0.12" stop-color="#8fa02a"/><stop offset="0.28" stop-color="#45a05a"/><stop offset="0.45" stop-color="#22908b"/><stop offset="0.62" stop-color="#355f8d"/><stop offset="0.8" stop-color="#463480"/><stop offset="1" stop-color="#3b0f50"/></linearGradient></defs>
<rect x="148.6" y="538.9" width="245.4" height="1.7" fill="url(#vg)"/>
<text x="148.9" y="535.8" font-size="7">27.11</text>
<text x="288.2" y="535.8" font-size="6.9" text-anchor="middle">Percent Identity</text>
<text x="396" y="535.8" font-size="7" text-anchor="end">100</text>
</g>
</svg></body></html>
